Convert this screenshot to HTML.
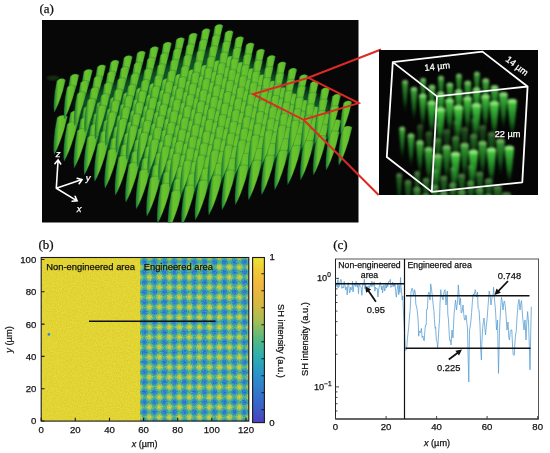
<!DOCTYPE html>
<html><head><meta charset="utf-8"><style>
html,body{margin:0;padding:0;background:#fff;width:550px;height:453px;overflow:hidden}
svg{display:block}
text{font-family:"Liberation Sans",Arial,sans-serif;stroke:#111;stroke-width:0.25px}
.w text{stroke:#fff}
.serif{font-family:"Liberation Serif","Times New Roman",serif;}
</style></head><body>
<svg width="550" height="453" viewBox="0 0 550 453">
<defs>
<clipPath id="clipA"><rect x="42" y="20" width="316.5" height="202.5"/></clipPath>
<clipPath id="clipC"><rect x="379" y="50" width="159" height="145"/></clipPath>
<linearGradient id="cg" x1="0" y1="0" x2="0" y2="1">
<stop offset="0" stop-color="#7cca30"/><stop offset="0.45" stop-color="#6cc22e"/><stop offset="0.8" stop-color="#3fae3a"/><stop offset="1" stop-color="#1a7a3a"/>
</linearGradient>
<linearGradient id="cgh" x1="0" y1="0" x2="1" y2="0.12">
<stop offset="0" stop-color="#0f5a34"/><stop offset="0.2" stop-color="#2f9436"/><stop offset="0.42" stop-color="#6cc42c"/><stop offset="0.8" stop-color="#62be2e"/><stop offset="1" stop-color="#369434"/>
</linearGradient>
<radialGradient id="cgr" cx="0.5" cy="0.22" r="0.8" fx="0.42" fy="0.18">
<stop offset="0" stop-color="#80cc2c"/><stop offset="0.45" stop-color="#6ec22e"/><stop offset="0.75" stop-color="#3a9c34"/><stop offset="1" stop-color="#145a28"/>
</radialGradient>
<linearGradient id="cg2" x1="0" y1="0" x2="0" y2="1">
<stop offset="0" stop-color="#6ada5a" stop-opacity="1"/><stop offset="0.12" stop-color="#44c840" stop-opacity="0.95"/><stop offset="0.55" stop-color="#22a02a" stop-opacity="0.65"/><stop offset="0.9" stop-color="#0d5010" stop-opacity="0"/>
</linearGradient>
<filter id="nz" x="0" y="0" width="100%" height="100%" color-interpolation-filters="sRGB"><feTurbulence type="fractalNoise" baseFrequency="0.8" numOctaves="2" seed="5"/><feColorMatrix type="matrix" values="1 0 0 0 0  1 0 0 0 0  1 0 0 0 0  0 0 0 0 1"/></filter>
<filter id="blr" x="-5%" y="-5%" width="110%" height="110%"><feGaussianBlur stdDeviation="0.6"/></filter>
<filter id="blr3" x="-10%" y="-10%" width="120%" height="120%"><feGaussianBlur stdDeviation="5"/></filter>
<filter id="blr2" x="-5%" y="-5%" width="110%" height="110%"><feGaussianBlur stdDeviation="1.1"/></filter>

<linearGradient id="par" x1="0" y1="0" x2="0" y2="1"><stop offset="0" stop-color="#ece434"/><stop offset="0.082" stop-color="#f0c837"/><stop offset="0.165" stop-color="#f2b63e"/><stop offset="0.289" stop-color="#d4b840"/><stop offset="0.392" stop-color="#a0be55"/><stop offset="0.495" stop-color="#55b982"/><stop offset="0.598" stop-color="#2dafaf"/><stop offset="0.701" stop-color="#2896c8"/><stop offset="0.804" stop-color="#327acd"/><stop offset="0.907" stop-color="#3c5fc8"/><stop offset="1" stop-color="#4b41be"/></linearGradient>
<pattern id="hm" patternUnits="userSpaceOnUse" x="140" y="258" width="10" height="10"><rect x="0" y="0" width="1" height="1" fill="#b3c450"/><rect x="1" y="0" width="1" height="1" fill="#91be63"/><rect x="2" y="0" width="1" height="1" fill="#5eb685"/><rect x="3" y="0" width="1" height="1" fill="#43ac9e"/><rect x="4" y="0" width="1" height="1" fill="#40a7a5"/><rect x="5" y="0" width="1" height="1" fill="#45ae9a"/><rect x="6" y="0" width="1" height="1" fill="#68b77e"/><rect x="7" y="0" width="1" height="1" fill="#9abf5c"/><rect x="8" y="0" width="1" height="1" fill="#b7c54e"/><rect x="9" y="0" width="1" height="1" fill="#bfc74a"/><rect x="0" y="1" width="1" height="1" fill="#8cbd66"/><rect x="1" y="1" width="1" height="1" fill="#61b683"/><rect x="2" y="1" width="1" height="1" fill="#41a9a2"/><rect x="3" y="1" width="1" height="1" fill="#379ab8"/><rect x="4" y="1" width="1" height="1" fill="#3395bf"/><rect x="5" y="1" width="1" height="1" fill="#389cb5"/><rect x="6" y="1" width="1" height="1" fill="#44ac9d"/><rect x="7" y="1" width="1" height="1" fill="#6bb87c"/><rect x="8" y="1" width="1" height="1" fill="#92be61"/><rect x="9" y="1" width="1" height="1" fill="#9fc059"/><rect x="0" y="2" width="1" height="1" fill="#5bb587"/><rect x="1" y="2" width="1" height="1" fill="#42a9a1"/><rect x="2" y="2" width="1" height="1" fill="#3496be"/><rect x="3" y="2" width="1" height="1" fill="#3385c9"/><rect x="4" y="2" width="1" height="1" fill="#3480ca"/><rect x="5" y="2" width="1" height="1" fill="#3288c8"/><rect x="6" y="2" width="1" height="1" fill="#369ab8"/><rect x="7" y="2" width="1" height="1" fill="#44ad9c"/><rect x="8" y="2" width="1" height="1" fill="#61b683"/><rect x="9" y="2" width="1" height="1" fill="#6eb87a"/><rect x="0" y="3" width="1" height="1" fill="#44ad9b"/><rect x="1" y="3" width="1" height="1" fill="#399db4"/><rect x="2" y="3" width="1" height="1" fill="#3289c8"/><rect x="3" y="3" width="1" height="1" fill="#3676cc"/><rect x="4" y="3" width="1" height="1" fill="#3870ce"/><rect x="5" y="3" width="1" height="1" fill="#3679cc"/><rect x="6" y="3" width="1" height="1" fill="#318dc7"/><rect x="7" y="3" width="1" height="1" fill="#3ba1ae"/><rect x="8" y="3" width="1" height="1" fill="#46af98"/><rect x="9" y="3" width="1" height="1" fill="#4eb390"/><rect x="0" y="4" width="1" height="1" fill="#44ac9d"/><rect x="1" y="4" width="1" height="1" fill="#389cb5"/><rect x="2" y="4" width="1" height="1" fill="#3287c8"/><rect x="3" y="4" width="1" height="1" fill="#3775cd"/><rect x="4" y="4" width="1" height="1" fill="#386fce"/><rect x="5" y="4" width="1" height="1" fill="#3678cc"/><rect x="6" y="4" width="1" height="1" fill="#318cc7"/><rect x="7" y="4" width="1" height="1" fill="#3ba0b0"/><rect x="8" y="4" width="1" height="1" fill="#45ae9a"/><rect x="9" y="4" width="1" height="1" fill="#4ab292"/><rect x="0" y="5" width="1" height="1" fill="#53b48d"/><rect x="1" y="5" width="1" height="1" fill="#3fa6a6"/><rect x="2" y="5" width="1" height="1" fill="#3293c3"/><rect x="3" y="5" width="1" height="1" fill="#3482ca"/><rect x="4" y="5" width="1" height="1" fill="#357ccb"/><rect x="5" y="5" width="1" height="1" fill="#3384c9"/><rect x="6" y="5" width="1" height="1" fill="#3497bd"/><rect x="7" y="5" width="1" height="1" fill="#42aaa1"/><rect x="8" y="5" width="1" height="1" fill="#59b588"/><rect x="9" y="5" width="1" height="1" fill="#66b780"/><rect x="0" y="6" width="1" height="1" fill="#82bb6d"/><rect x="1" y="6" width="1" height="1" fill="#57b48a"/><rect x="2" y="6" width="1" height="1" fill="#3ea5a8"/><rect x="3" y="6" width="1" height="1" fill="#3496be"/><rect x="4" y="6" width="1" height="1" fill="#3091c5"/><rect x="5" y="6" width="1" height="1" fill="#3598bb"/><rect x="6" y="6" width="1" height="1" fill="#41a8a2"/><rect x="7" y="6" width="1" height="1" fill="#61b683"/><rect x="8" y="6" width="1" height="1" fill="#88bc68"/><rect x="9" y="6" width="1" height="1" fill="#95be60"/><rect x="0" y="7" width="1" height="1" fill="#adc352"/><rect x="1" y="7" width="1" height="1" fill="#88bc68"/><rect x="2" y="7" width="1" height="1" fill="#56b48b"/><rect x="3" y="7" width="1" height="1" fill="#41a9a2"/><rect x="4" y="7" width="1" height="1" fill="#3ea4a9"/><rect x="5" y="7" width="1" height="1" fill="#43ab9f"/><rect x="6" y="7" width="1" height="1" fill="#5fb684"/><rect x="7" y="7" width="1" height="1" fill="#92be62"/><rect x="8" y="7" width="1" height="1" fill="#b1c451"/><rect x="9" y="7" width="1" height="1" fill="#bac64d"/><rect x="0" y="8" width="1" height="1" fill="#c3c849"/><rect x="1" y="8" width="1" height="1" fill="#a6c156"/><rect x="2" y="8" width="1" height="1" fill="#76b975"/><rect x="3" y="8" width="1" height="1" fill="#4fb38f"/><rect x="4" y="8" width="1" height="1" fill="#46b097"/><rect x="5" y="8" width="1" height="1" fill="#55b48b"/><rect x="6" y="8" width="1" height="1" fill="#80bb6e"/><rect x="7" y="8" width="1" height="1" fill="#acc353"/><rect x="8" y="8" width="1" height="1" fill="#c7c847"/><rect x="9" y="8" width="1" height="1" fill="#d0ca43"/><rect x="0" y="9" width="1" height="1" fill="#c5c848"/><rect x="1" y="9" width="1" height="1" fill="#a8c255"/><rect x="2" y="9" width="1" height="1" fill="#79ba72"/><rect x="3" y="9" width="1" height="1" fill="#52b48d"/><rect x="4" y="9" width="1" height="1" fill="#47b195"/><rect x="5" y="9" width="1" height="1" fill="#58b589"/><rect x="6" y="9" width="1" height="1" fill="#83bb6c"/><rect x="7" y="9" width="1" height="1" fill="#afc352"/><rect x="8" y="9" width="1" height="1" fill="#c9c946"/><rect x="9" y="9" width="1" height="1" fill="#d2cb42"/></pattern>
</defs>
<text class="serif" x="39.5" y="12.6" font-size="13" fill="#111">(a)</text>
<rect x="42" y="20" width="316.5" height="202.5" fill="#070707"/>
<ellipse cx="53" cy="78" rx="6.5" ry="2.5" fill="#2a6a22" opacity="0.4" filter="url(#blr2)"/>
<g clip-path="url(#clipA)"><path d="M78 96L222 44L332 104L332 140L180 196L78 134Z" fill="#17602a" filter="url(#blr3)" opacity="0.85"/></g>
<g clip-path="url(#clipA)"><g filter="url(#blr)" fill="url(#cgh)" stroke="#0f5a34" stroke-width="0.5" stroke-opacity="0.5"><path d="M225.8 58.2Q230.5 54.2 235.6 57.2L232.3 69.9Q227.1 86.8 222.6 94.3Q221.4 86.8 223.7 69.9Z"/><path d="M213.2 62.6Q218 58.6 223 61.6L219.8 74.3Q214.6 91.3 210.1 98.8Q208.9 91.3 211.2 74.3Z"/><path d="M236.1 64.4Q240.8 60.4 245.8 63.4L242.6 76.1Q237.4 93 232.9 100.6Q231.7 93 234 76.1Z"/><path d="M200.6 67.1Q205.3 63.1 210.5 66.1L207.2 78.8Q202 95.8 197.4 103.3Q196.2 95.8 198.5 78.8Z"/><path d="M223.5 68.8Q228.2 64.8 233.3 67.8L230 80.6Q224.8 97.5 220.3 105.1Q219.1 97.5 221.4 80.6Z"/><path d="M246.4 70.6Q251.1 66.6 256.2 69.6L252.9 82.3Q247.7 99.3 243.2 106.9Q242 99.3 244.3 82.3Z"/><path d="M187.9 71.5Q192.7 67.5 197.8 70.5L194.5 83.3Q189.3 100.3 184.8 107.9Q183.5 100.3 185.8 83.3Z"/><path d="M210.8 73.3Q215.6 69.3 220.7 72.3L217.4 85.1Q212.2 102.1 207.7 109.6Q206.4 102.1 208.7 85.1Z"/><path d="M233.8 75.1Q238.5 71.1 243.6 74.1L240.3 86.8Q235.1 103.8 230.6 111.4Q229.4 103.8 231.7 86.8Z"/><path d="M256.8 76.8Q261.5 72.8 266.5 75.8L263.3 88.6Q258.1 105.6 253.5 113.2Q252.3 105.6 254.6 88.6Z"/><path d="M175.1 76Q179.9 72 185.1 75L181.8 87.8Q176.6 104.9 172 112.4Q170.7 104.9 173 87.8Z"/><path d="M198.1 77.8Q202.9 73.8 208 76.8L204.7 89.6Q199.5 106.6 195 114.2Q193.7 106.6 196 89.6Z"/><path d="M221.1 79.6Q225.9 75.6 231 78.6L227.7 91.3Q222.5 108.4 217.9 116Q216.7 108.4 219 91.3Z"/><path d="M244.1 81.4Q248.9 77.4 254 80.4L250.7 93.1Q245.5 110.2 240.9 117.8Q239.7 110.2 242 93.1Z"/><path d="M267.2 83.1Q271.9 79.1 277 82.1L273.7 94.9Q268.5 112 264 119.6Q262.8 112 265.1 94.9Z"/><path d="M162.3 80.5Q167.1 76.5 172.3 79.5L169 92.3Q163.8 109.4 159.2 117Q157.9 109.4 160.2 92.3Z"/><path d="M185.3 82.3Q190.1 78.3 195.3 81.3L192 94.1Q186.8 111.2 182.2 118.8Q180.9 111.2 183.2 94.1Z"/><path d="M208.4 84.1Q213.2 80.1 218.3 83.1L215 95.9Q209.8 113 205.2 120.6Q204 113 206.3 95.9Z"/><path d="M231.5 85.9Q236.2 81.9 241.4 84.9L238.1 97.7Q232.9 114.8 228.3 122.4Q227 114.8 229.4 97.7Z"/><path d="M254.6 87.7Q259.3 83.7 264.4 86.7L261.1 99.5Q255.9 116.6 251.4 124.2Q250.1 116.6 252.5 99.5Z"/><path d="M149.4 85.1Q154.2 81.1 159.5 84.1L156.1 96.9Q150.9 114 146.3 121.6Q145 114 147.3 96.9Z"/><path d="M277.7 89.5Q282.4 85.5 287.5 88.5L284.2 101.3Q279 118.4 274.5 126Q273.3 118.4 275.6 101.3Z"/><path d="M172.5 86.9Q177.3 82.9 182.5 85.9L179.2 98.7Q174 115.8 169.3 123.4Q168.1 115.8 170.4 98.7Z"/><path d="M195.6 88.7Q200.4 84.7 205.6 87.7L202.3 100.5Q197 117.6 192.4 125.2Q191.2 117.6 193.5 100.5Z"/><path d="M218.7 90.4Q223.5 86.4 228.7 89.4L225.4 102.3Q220.1 119.4 215.6 127Q214.3 119.4 216.6 102.3Z"/><path d="M241.9 92.2Q246.7 88.2 251.8 91.2L248.5 104.1Q243.3 121.2 238.7 128.8Q237.5 121.2 239.8 104.1Z"/><path d="M136.4 89.6Q141.3 85.6 146.5 88.6L143.2 101.5Q138 118.6 133.3 126.3Q132 118.6 134.3 101.5Z"/><path d="M265.1 94Q269.8 90 275 93L271.7 105.9Q266.4 123 261.9 130.6Q260.6 123 263 105.9Z"/><path d="M159.6 91.4Q164.4 87.4 169.6 90.4L166.3 103.3Q161.1 120.4 156.4 128.1Q155.2 120.4 157.5 103.3Z"/><path d="M288.3 95.8Q293 91.8 298.1 94.8L294.8 107.7Q289.6 124.8 285.1 132.4Q283.8 124.8 286.2 107.7Z"/><path d="M182.7 93.2Q187.5 89.2 192.8 92.2L189.5 105.1Q184.2 122.2 179.6 129.9Q178.3 122.2 180.6 105.1Z"/><path d="M205.9 95Q210.7 91 215.9 94L212.6 106.9Q207.4 124 202.8 131.7Q201.5 124 203.8 106.9Z"/><path d="M229.1 96.8Q233.9 92.8 239.1 95.8L235.8 108.7Q230.6 125.8 225.9 133.5Q224.7 125.8 227 108.7Z"/><path d="M123.4 94.2Q128.2 90.2 133.5 93.2L130.2 106.1Q125 123.3 120.3 130.9Q119 123.3 121.3 106.1Z"/><path d="M252.4 98.6Q257.1 94.6 262.3 97.6L259 110.5Q253.8 127.6 249.2 135.3Q247.9 127.6 250.3 110.5Z"/><path d="M146.6 96Q151.4 92 156.7 95L153.4 107.9Q148.1 125.1 143.5 132.7Q142.2 125.1 144.5 107.9Z"/><path d="M275.6 100.4Q280.4 96.4 285.5 99.4L282.2 112.3Q277 129.5 272.4 137.1Q271.2 129.5 273.5 112.3Z"/><path d="M169.8 97.8Q174.6 93.8 179.9 96.8L176.6 109.7Q171.3 126.9 166.7 134.5Q165.4 126.9 167.7 109.7Z"/><path d="M298.9 102.2Q303.7 98.2 308.8 101.2L305.5 114.1Q300.3 131.3 295.7 138.9Q294.5 131.3 296.8 114.1Z"/><path d="M193 99.6Q197.9 95.6 203.1 98.6L199.8 111.5Q194.5 128.7 189.9 136.3Q188.6 128.7 190.9 111.5Z"/><path d="M216.3 101.4Q221.1 97.4 226.3 100.4L223 113.3Q217.8 130.5 213.1 138.2Q211.9 130.5 214.2 113.3Z"/><path d="M110.3 98.8Q115.2 94.8 120.5 97.8L117.2 110.7Q111.9 127.9 107.2 135.6Q105.9 127.9 108.2 110.7Z"/><path d="M239.6 103.2Q244.4 99.2 249.6 102.2L246.3 115.1Q241 132.3 236.4 140Q235.2 132.3 237.5 115.1Z"/><path d="M133.5 100.6Q138.4 96.6 143.7 99.6L140.4 112.5Q135.1 129.8 130.4 137.4Q129.1 129.8 131.4 112.5Z"/><path d="M262.9 105Q267.7 101 272.9 104L269.6 116.9Q264.3 134.1 259.7 141.8Q258.5 134.1 260.8 116.9Z"/><path d="M156.8 102.4Q161.6 98.4 166.9 101.4L163.6 114.3Q158.3 131.6 153.7 139.2Q152.4 131.6 154.7 114.3Z"/><path d="M286.3 106.9Q291 102.9 296.2 105.9L292.9 118.7Q287.6 136 283 143.6Q281.8 136 284.2 118.7Z"/><path d="M180.1 104.3Q184.9 100.3 190.2 103.3L186.9 116.2Q181.6 133.4 176.9 141Q175.7 133.4 178 116.2Z"/><path d="M309.7 108.7Q314.4 104.7 319.5 107.7L316.2 120.6Q311 137.8 306.4 145.4Q305.2 137.8 307.5 120.6Z"/><path d="M203.4 106.1Q208.2 102.1 213.5 105.1L210.2 118Q204.9 135.2 200.3 142.9Q199 135.2 201.3 118Z"/><path d="M97.1 103.5Q102 99.5 107.4 102.5L104 115.4Q98.7 132.6 94 140.3Q92.7 132.6 95 115.4Z"/><path d="M226.8 107.9Q231.6 103.9 236.8 106.9L233.5 119.8Q228.2 137 223.6 144.7Q222.3 137 224.6 119.8Z"/><path d="M120.4 105.3Q125.3 101.3 130.6 104.3L127.3 117.2Q122 134.5 117.3 142.1Q116 134.5 118.3 117.2Z"/><path d="M250.2 109.7Q254.9 105.7 260.2 108.7L256.8 121.6Q251.6 138.9 246.9 146.5Q245.7 138.9 248 121.6Z"/><path d="M143.7 107.1Q148.6 103.1 153.9 106.1L150.6 119Q145.3 136.3 140.6 144Q139.3 136.3 141.6 119Z"/><path d="M273.6 111.5Q278.3 107.5 283.5 110.5L280.2 123.4Q274.9 140.7 270.3 148.4Q269.1 140.7 271.4 123.4Z"/><path d="M167.1 108.9Q171.9 104.9 177.2 107.9L173.9 120.8Q168.6 138.1 163.9 145.8Q162.6 138.1 165 120.8Z"/><path d="M297 113.3Q301.8 109.3 306.9 112.3L303.6 125.3Q298.3 142.5 293.7 150.2Q292.5 142.5 294.9 125.3Z"/><path d="M190.5 110.7Q195.3 106.7 200.6 109.7L197.2 122.7Q192 139.9 187.3 147.6Q186 139.9 188.3 122.7Z"/><path d="M320.4 115.2Q325.2 111.2 330.3 114.2L327 127.1Q321.8 144.3 317.2 152Q316 144.3 318.3 127.1Z"/><path d="M83.8 108.1Q88.8 104.1 94.2 107.1L90.8 120.1Q85.5 137.4 80.8 145Q79.4 137.4 81.7 120.1Z"/><path d="M213.9 112.6Q218.7 108.6 224 111.6L220.6 124.5Q215.3 141.8 210.7 149.4Q209.4 141.8 211.7 124.5Z"/><path d="M107.2 109.9Q112.1 105.9 117.5 108.9L114.1 121.9Q108.8 139.2 104.1 146.9Q102.8 139.2 105.1 121.9Z"/><path d="M237.3 114.4Q242.1 110.4 247.4 113.4L244 126.3Q238.7 143.6 234.1 151.3Q232.8 143.6 235.2 126.3Z"/><path d="M130.6 111.8Q135.5 107.8 140.8 110.8L137.5 123.7Q132.2 141 127.5 148.7Q126.2 141 128.5 123.7Z"/><path d="M260.8 116.2Q265.6 112.2 270.8 115.2L267.4 128.1Q262.2 145.4 257.5 153.1Q256.3 145.4 258.6 128.1Z"/><path d="M154 113.6Q158.9 109.6 164.2 112.6L160.9 125.5Q155.6 142.8 150.9 150.5Q149.6 142.8 151.9 125.5Z"/><path d="M284.3 118Q289 114 294.2 117L290.9 130Q285.6 147.3 281 154.9Q279.8 147.3 282.1 130Z"/><path d="M177.4 115.4Q182.3 111.4 187.6 114.4L184.3 127.4Q179 144.7 174.3 152.4Q173 144.7 175.3 127.4Z"/><path d="M307.8 119.9Q312.5 115.9 317.7 118.9L314.4 131.8Q309.1 149.1 304.5 156.8Q303.3 149.1 305.6 131.8Z"/><path d="M70.5 112.8Q75.5 108.8 80.9 111.8L77.5 124.8Q72.2 142.1 67.5 149.8Q66.1 142.1 68.4 124.8Z"/><path d="M200.9 117.3Q205.7 113.3 211 116.3L207.7 129.2Q202.4 146.5 197.7 154.2Q196.4 146.5 198.8 129.2Z"/><path d="M331.3 121.7Q336.1 117.7 341.2 120.7L337.9 133.6Q332.6 150.9 328 158.6Q326.8 150.9 329.2 133.6Z"/><path d="M93.9 114.6Q98.9 110.6 104.3 113.6L100.9 126.6Q95.6 143.9 90.9 151.6Q89.5 143.9 91.8 126.6Z"/><path d="M224.4 119.1Q229.2 115.1 234.5 118.1L231.1 131Q225.9 148.4 221.2 156.1Q219.9 148.4 222.2 131Z"/><path d="M117.4 116.5Q122.3 112.5 127.7 115.5L124.3 128.4Q119 145.8 114.3 153.5Q112.9 145.8 115.2 128.4Z"/><path d="M247.9 120.9Q252.7 116.9 258 119.9L254.6 132.9Q249.3 150.2 244.7 157.9Q243.4 150.2 245.8 132.9Z"/><path d="M140.8 118.3Q145.7 114.3 151.1 117.3L147.7 130.3Q142.4 147.6 137.7 155.3Q136.4 147.6 138.7 130.3Z"/><path d="M271.4 122.8Q276.3 118.8 281.5 121.8L278.1 134.7Q272.9 152 268.2 159.7Q267 152 269.3 134.7Z"/><path d="M164.3 120.1Q169.2 116.1 174.6 119.1L171.2 132.1Q165.9 149.5 161.2 157.2Q159.9 149.5 162.2 132.1Z"/><path d="M295 124.6Q299.8 120.6 305 123.6L301.7 136.6Q296.4 153.9 291.8 161.6Q290.5 153.9 292.9 136.6Z"/><path d="M57.1 117.5Q62.1 113.5 67.5 116.5L64.2 129.5Q58.8 146.9 54.1 154.6Q52.7 146.9 55 129.5Z"/><path d="M187.8 122Q192.7 118 198 121L194.7 134Q189.4 151.3 184.7 159Q183.4 151.3 185.7 134Z"/><path d="M318.6 126.4Q323.4 122.4 328.6 125.4L325.2 138.4Q320 155.7 315.3 163.4Q314.1 155.7 316.5 138.4Z"/><path d="M80.6 119.4Q85.5 115.4 91 118.4L87.6 131.4Q82.3 148.7 77.5 156.4Q76.2 148.7 78.5 131.4Z"/><path d="M211.4 123.8Q216.3 119.8 221.6 122.8L218.2 135.8Q212.9 153.1 208.2 160.9Q206.9 153.1 209.3 135.8Z"/><path d="M342.2 128.3Q347 124.3 352.2 127.3L348.8 140.3Q343.6 157.6 338.9 165.3Q337.7 157.6 340.1 140.3Z"/><path d="M104.1 121.2Q109 117.2 114.4 120.2L111.1 133.2Q105.7 150.6 101 158.3Q99.7 150.6 101.9 133.2Z"/><path d="M235 125.7Q239.8 121.7 245.1 124.7L241.7 137.6Q236.4 155 231.8 162.7Q230.5 155 232.8 137.6Z"/><path d="M127.6 123Q132.5 119 137.9 122L134.6 135Q129.2 152.4 124.5 160.1Q123.2 152.4 125.5 135Z"/><path d="M258.6 127.5Q263.4 123.5 268.7 126.5L265.3 139.5Q260 156.8 255.3 164.6Q254.1 156.8 256.4 139.5Z"/><path d="M151.2 124.9Q156.1 120.9 161.4 123.9L158.1 136.9Q152.7 154.3 148 162Q146.7 154.3 149 136.9Z"/><path d="M282.2 129.3Q287 125.3 292.2 128.3L288.9 141.3Q283.6 158.7 279 166.4Q277.7 158.7 280 141.3Z"/><path d="M174.7 126.7Q179.6 122.7 185 125.7L181.6 138.7Q176.3 156.1 171.6 163.8Q170.3 156.1 172.6 138.7Z"/><path d="M305.8 131.2Q310.6 127.2 315.9 130.2L312.5 143.2Q307.2 160.6 302.6 168.3Q301.3 160.6 303.7 143.2Z"/><path d="M67.2 124.1Q72.1 120.1 77.6 123.1L74.2 136.1Q68.9 153.5 64.1 161.2Q62.7 153.5 65 136.1Z"/><path d="M198.3 128.6Q203.2 124.6 208.6 127.6L205.2 140.6Q199.9 158 195.2 165.7Q193.9 158 196.2 140.6Z"/><path d="M329.5 133Q334.3 129 339.5 132L336.2 145Q330.9 162.4 326.2 170.1Q325 162.4 327.4 145Z"/><path d="M90.7 125.9Q95.7 121.9 101.1 124.9L97.8 138Q92.4 155.4 87.6 163.1Q86.3 155.4 88.6 138Z"/><path d="M222 130.4Q226.8 126.4 232.1 129.4L228.8 142.4Q223.5 159.8 218.8 167.5Q217.5 159.8 219.8 142.4Z"/><path d="M114.3 127.8Q119.2 123.8 124.7 126.8L121.3 139.8Q116 157.2 111.2 165Q109.9 157.2 112.2 139.8Z"/><path d="M245.6 132.3Q250.5 128.3 255.8 131.3L252.4 144.3Q247.1 161.7 242.4 169.4Q241.1 161.7 243.5 144.3Z"/><path d="M137.9 129.6Q142.8 125.6 148.3 128.6L144.9 141.7Q139.5 159.1 134.8 166.8Q133.5 159.1 135.8 141.7Z"/><path d="M269.3 134.1Q274.1 130.1 279.4 133.1L276.1 146.1Q270.7 163.5 266.1 171.3Q264.8 163.5 267.2 146.1Z"/><path d="M161.5 131.5Q166.5 127.5 171.9 130.5L168.5 143.5Q163.1 160.9 158.4 168.7Q157.1 160.9 159.4 143.5Z"/><path d="M293 136Q297.8 132 303.1 135L299.7 148Q294.4 165.4 289.8 173.1Q288.5 165.4 290.9 148Z"/><path d="M185.2 133.3Q190.1 129.3 195.5 132.3L192.1 145.4Q186.8 162.8 182 170.5Q180.7 162.8 183.1 145.4Z"/><path d="M316.8 137.8Q321.6 133.8 326.8 136.8L323.4 149.9Q318.1 167.3 313.5 175Q312.2 167.3 314.6 149.9Z"/><path d="M77.3 130.7Q82.3 126.7 87.8 129.7L84.4 142.8Q79 160.2 74.2 167.9Q72.9 160.2 75.2 142.8Z"/><path d="M208.9 135.2Q213.8 131.2 219.1 134.2L215.8 147.2Q210.4 164.7 205.7 172.4Q204.4 164.7 206.7 147.2Z"/><path d="M100.9 132.6Q105.9 128.6 111.4 131.6L108 144.6Q102.6 162.1 97.8 169.8Q96.5 162.1 98.8 144.6Z"/><path d="M232.6 137.1Q237.5 133.1 242.8 136.1L239.4 149.1Q234.1 166.5 229.4 174.3Q228.1 166.5 230.5 149.1Z"/><path d="M124.6 134.4Q129.5 130.4 135 133.4L131.6 146.5Q126.2 163.9 121.5 171.7Q120.1 163.9 122.4 146.5Z"/><path d="M256.3 138.9Q261.2 134.9 266.5 137.9L263.1 151Q257.8 168.4 253.1 176.1Q251.8 168.4 254.2 151Z"/><path d="M148.3 136.3Q153.2 132.3 158.6 135.3L155.3 148.4Q149.9 165.8 145.2 173.6Q143.8 165.8 146.1 148.4Z"/><path d="M280.1 140.8Q285 136.8 290.2 139.8L286.9 152.8Q281.6 170.3 276.9 178Q275.6 170.3 278 152.8Z"/><path d="M172 138.2Q176.9 134.2 182.3 137.2L178.9 150.2Q173.6 167.7 168.9 175.4Q167.5 167.7 169.9 150.2Z"/><path d="M303.9 142.6Q308.7 138.6 314 141.6L310.6 154.7Q305.3 172.1 300.6 179.9Q299.4 172.1 301.8 154.7Z"/><path d="M195.7 140Q200.7 136 206 139L202.7 152.1Q197.3 169.5 192.6 177.3Q191.3 169.5 193.6 152.1Z"/><path d="M87.5 137.4Q92.5 133.4 98 136.4L94.6 149.5Q89.2 166.9 84.4 174.7Q83 166.9 85.3 149.5Z"/><path d="M219.5 141.9Q224.4 137.9 229.8 140.9L226.4 154Q221 171.4 216.3 179.2Q215 171.4 217.4 154Z"/><path d="M111.2 139.2Q116.2 135.2 121.7 138.2L118.3 151.3Q112.9 168.8 108.1 176.6Q106.7 168.8 109.1 151.3Z"/><path d="M243.3 143.8Q248.2 139.8 253.5 142.8L250.2 155.8Q244.8 173.3 240.1 181.1Q238.8 173.3 241.2 155.8Z"/><path d="M135 141.1Q139.9 137.1 145.4 140.1L142 153.2Q136.6 170.7 131.8 178.5Q130.5 170.7 132.8 153.2Z"/><path d="M267.1 145.6Q272 141.6 277.3 144.6L273.9 157.7Q268.6 175.2 263.9 182.9Q262.6 175.2 265 157.7Z"/><path d="M158.7 143Q163.7 139 169.1 142L165.7 155.1Q160.3 172.6 155.6 180.3Q154.3 172.6 156.6 155.1Z"/><path d="M291 147.5Q295.8 143.5 301.1 146.5L297.8 159.6Q292.4 177.1 287.7 184.8Q286.5 177.1 288.8 159.6Z"/><path d="M182.5 144.9Q187.5 140.9 192.9 143.9L189.5 157Q184.1 174.4 179.4 182.2Q178 174.4 180.4 157Z"/><path d="M206.4 146.7Q211.3 142.7 216.7 145.7L213.3 158.8Q207.9 176.3 203.2 184.1Q201.9 176.3 204.2 158.8Z"/><path d="M97.7 144.1Q102.7 140.1 108.3 143.1L104.9 156.2Q99.5 173.7 94.7 181.5Q93.3 173.7 95.6 156.2Z"/><path d="M230.2 148.6Q235.1 144.6 240.5 147.6L237.1 160.7Q231.7 178.2 227 186Q225.7 178.2 228.1 160.7Z"/><path d="M121.5 146Q126.5 142 132 145L128.6 158.1Q123.2 175.6 118.4 183.4Q117.1 175.6 119.4 158.1Z"/><path d="M254.1 150.5Q259 146.5 264.3 149.5L260.9 162.6Q255.6 180.1 250.9 187.9Q249.6 180.1 251.9 162.6Z"/><path d="M145.4 147.8Q150.3 143.8 155.8 146.8L152.4 160Q147 177.5 142.3 185.3Q140.9 177.5 143.2 160Z"/><path d="M278 152.4Q282.9 148.4 288.2 151.4L284.8 164.5Q279.5 182 274.8 189.8Q273.5 182 275.8 164.5Z"/><path d="M169.2 149.7Q174.2 145.7 179.6 148.7L176.2 161.9Q170.9 179.4 166.1 187.2Q164.8 179.4 167.1 161.9Z"/><path d="M193.1 151.6Q198.1 147.6 203.5 150.6L200.1 163.7Q194.7 181.3 190 189.1Q188.6 181.3 191 163.7Z"/><path d="M217 153.5Q222 149.5 227.4 152.5L224 165.6Q218.6 183.2 213.9 190.9Q212.5 183.2 214.9 165.6Z"/><path d="M108.1 150.8Q113.1 146.8 118.6 149.8L115.2 163Q109.8 180.5 105 188.3Q103.6 180.5 105.9 163Z"/><path d="M241 155.4Q245.9 151.4 251.3 154.4L247.9 167.5Q242.5 185.1 237.8 192.8Q236.5 185.1 238.8 167.5Z"/><path d="M132 152.7Q136.9 148.7 142.4 151.7L139 164.9Q133.6 182.4 128.8 190.2Q127.5 182.4 129.8 164.9Z"/><path d="M265 157.3Q269.8 153.3 275.2 156.3L271.8 169.4Q266.4 186.9 261.7 194.7Q260.4 186.9 262.8 169.4Z"/><path d="M155.9 154.6Q160.8 150.6 166.3 153.6L162.9 166.8Q157.5 184.3 152.7 192.1Q151.4 184.3 153.7 166.8Z"/><path d="M179.8 156.5Q184.8 152.5 190.2 155.5L186.8 168.7Q181.4 186.2 176.7 194Q175.3 186.2 177.7 168.7Z"/><path d="M203.8 158.4Q208.7 154.4 214.2 157.4L210.8 170.6Q205.4 188.1 200.6 195.9Q199.3 188.1 201.6 170.6Z"/><path d="M227.8 160.3Q232.7 156.3 238.1 159.3L234.7 172.5Q229.4 190 224.6 197.8Q223.3 190 225.6 172.5Z"/><path d="M118.5 157.6Q123.5 153.6 129 156.6L125.6 169.8Q120.2 187.4 115.4 195.2Q114 187.4 116.3 169.8Z"/><path d="M251.8 162.2Q256.7 158.2 262.1 161.2L258.7 174.4Q253.3 191.9 248.6 199.7Q247.3 191.9 249.6 174.4Z"/><path d="M142.4 159.5Q147.4 155.5 152.9 158.5L149.5 171.7Q144.1 189.3 139.3 197.1Q137.9 189.3 140.3 171.7Z"/><path d="M166.4 161.4Q171.4 157.4 176.9 160.4L173.5 173.6Q168.1 191.2 163.3 199Q161.9 191.2 164.3 173.6Z"/><path d="M190.5 163.3Q195.4 159.3 200.9 162.3L197.5 175.5Q192.1 193.1 187.3 200.9Q186 193.1 188.3 175.5Z"/><path d="M214.5 165.2Q219.5 161.2 224.9 164.2L221.5 177.4Q216.1 195 211.3 202.9Q210 195 212.4 177.4Z"/><path d="M238.6 167.1Q243.6 163.1 249 166.1L245.6 179.3Q240.2 196.9 235.4 204.8Q234.1 196.9 236.4 179.3Z"/><path d="M128.9 164.5Q133.9 160.5 139.5 163.5L136.1 176.7Q130.6 194.3 125.8 202.2Q124.4 194.3 126.8 176.7Z"/><path d="M153 166.4Q158 162.4 163.5 165.4L160.1 178.6Q154.7 196.2 149.9 204.1Q148.5 196.2 150.8 178.6Z"/><path d="M177.1 168.3Q182.1 164.3 187.6 167.3L184.2 180.5Q178.7 198.2 173.9 206Q172.6 198.2 174.9 180.5Z"/><path d="M201.2 170.2Q206.2 166.2 211.7 169.2L208.2 182.4Q202.8 200.1 198 207.9Q196.7 200.1 199 182.4Z"/><path d="M225.3 172.1Q230.3 168.1 235.8 171.1L232.3 184.4Q226.9 202 222.1 209.8Q220.8 202 223.2 184.4Z"/><path d="M139.5 171.4Q144.5 167.4 150 170.4L146.6 183.6Q141.2 201.3 136.3 209.1Q135 201.3 137.3 183.6Z"/><path d="M163.6 173.3Q168.6 169.3 174.2 172.3L170.7 185.5Q165.3 203.2 160.5 211.1Q159.1 203.2 161.4 185.5Z"/><path d="M187.8 175.2Q192.8 171.2 198.3 174.2L194.9 187.5Q189.4 205.1 184.6 213Q183.3 205.1 185.6 187.5Z"/><path d="M212 177.1Q217 173.1 222.5 176.1L219 189.4Q213.6 207.1 208.8 214.9Q207.5 207.1 209.8 189.4Z"/><path d="M150.1 178.3Q155.1 174.3 160.7 177.3L157.2 190.6Q151.8 208.3 146.9 216.2Q145.5 208.3 147.9 190.6Z"/><path d="M174.3 180.2Q179.3 176.2 184.9 179.2L181.4 192.5Q176 210.2 171.2 218.1Q169.8 210.2 172.1 192.5Z"/><path d="M198.6 182.2Q203.6 178.2 209.1 181.2L205.7 194.5Q200.2 212.2 195.4 220Q194 212.2 196.4 194.5Z"/><path d="M160.7 185.3Q165.8 181.3 171.4 184.3L167.9 197.6Q162.5 215.3 157.6 223.2Q156.2 215.3 158.6 197.6Z"/><path d="M185.1 187.2Q190.1 183.2 195.7 186.2L192.2 199.5Q186.8 217.3 181.9 225.2Q180.5 217.3 182.9 199.5Z"/><path d="M171.5 192.3Q176.5 188.3 182.1 191.3L178.7 204.7Q173.2 222.4 168.3 230.3Q167 222.4 169.3 204.7Z"/><path d="M214.8 26.5Q218.9 22.5 223.1 25.5L220.3 36.2Q215.9 50.7 212.1 57.1Q211.1 50.7 213 36.2Z"/><path d="M202 30.9Q206.1 26.9 210.3 29.9L207.6 40.7Q203.2 55.1 199.3 61.5Q198.3 55.1 200.3 40.7Z"/><path d="M225.1 32.7Q229.2 28.7 233.4 31.7L230.7 42.4Q226.3 56.9 222.4 63.3Q221.4 56.9 223.4 42.4Z"/><path d="M189.1 35.3Q193.3 31.3 197.5 34.3L194.8 45.1Q190.3 59.6 186.5 66Q185.4 59.6 187.4 45.1Z"/><path d="M212.3 37.1Q216.5 33.1 220.7 36.1L217.9 46.9Q213.5 61.3 209.6 67.8Q208.6 61.3 210.6 46.9Z"/><path d="M235.5 38.8Q239.7 34.8 243.9 37.8L241.1 48.6Q236.7 63.1 232.8 69.5Q231.8 63.1 233.8 48.6Z"/><path d="M176.2 39.8Q180.4 35.8 184.7 38.8L181.9 49.6Q177.5 64.1 173.6 70.5Q172.5 64.1 174.5 49.6Z"/><path d="M199.5 41.5Q203.6 37.5 207.9 40.5L205.1 51.3Q200.7 65.8 196.8 72.3Q195.8 65.8 197.7 51.3Z"/><path d="M222.7 43.3Q226.9 39.3 231.1 42.3L228.3 53.1Q223.9 67.6 220 74.1Q219 67.6 221 53.1Z"/><path d="M246 45.1Q250.1 41.1 254.4 44.1L251.6 54.9Q247.2 69.4 243.3 75.8Q242.3 69.4 244.3 54.9Z"/><path d="M163.2 44.3Q167.4 40.3 171.7 43.3L168.9 54.1Q164.5 68.6 160.6 75Q159.5 68.6 161.5 54.1Z"/><path d="M186.5 46Q190.7 42 195 45L192.2 55.8Q187.8 70.4 183.9 76.8Q182.8 70.4 184.8 55.8Z"/><path d="M209.9 47.8Q214 43.8 218.3 46.8L215.5 57.6Q211 72.1 207.2 78.6Q206.1 72.1 208.1 57.6Z"/><path d="M233.2 49.6Q237.3 45.6 241.6 48.6L238.8 59.4Q234.4 73.9 230.5 80.4Q229.5 73.9 231.4 59.4Z"/><path d="M256.6 51.3Q260.7 47.3 264.9 50.3L262.1 61.2Q257.7 75.7 253.8 82.2Q252.8 75.7 254.8 61.2Z"/><path d="M150.2 48.7Q154.4 44.7 158.7 47.7L155.9 58.6Q151.5 73.1 147.5 79.6Q146.5 73.1 148.4 58.6Z"/><path d="M173.5 50.5Q177.7 46.5 182 49.5L179.2 60.3Q174.8 74.9 170.9 81.4Q169.8 74.9 171.8 60.3Z"/><path d="M196.9 52.3Q201.1 48.3 205.4 51.3L202.6 62.1Q198.1 76.7 194.2 83.2Q193.2 76.7 195.2 62.1Z"/><path d="M220.3 54.1Q224.5 50.1 228.7 53.1L225.9 63.9Q221.5 78.5 217.6 85Q216.6 78.5 218.6 63.9Z"/><path d="M243.7 55.9Q247.9 51.9 252.1 54.9L249.3 65.7Q244.9 80.3 241 86.8Q240 80.3 242 65.7Z"/><path d="M137.1 53.3Q141.3 49.3 145.6 52.3L142.8 63.1Q138.4 77.7 134.4 84.2Q133.4 77.7 135.3 63.1Z"/><path d="M267.2 57.6Q271.3 53.6 275.5 56.6L272.8 67.5Q268.3 82.1 264.5 88.5Q263.4 82.1 265.4 67.5Z"/><path d="M160.5 55Q164.7 51 169 54L166.2 64.9Q161.7 79.5 157.8 86Q156.7 79.5 158.7 64.9Z"/><path d="M183.9 56.8Q188.1 52.8 192.4 55.8L189.6 66.7Q185.1 81.3 181.2 87.8Q180.2 81.3 182.1 66.7Z"/><path d="M207.3 58.6Q211.5 54.6 215.8 57.6L213 68.5Q208.6 83.1 204.7 89.6Q203.6 83.1 205.6 68.5Z"/><path d="M230.8 60.4Q235 56.4 239.3 59.4L236.5 70.3Q232 84.9 228.1 91.4Q227.1 84.9 229.1 70.3Z"/><path d="M123.9 57.8Q128.1 53.8 132.5 56.8L129.7 67.7Q125.2 82.3 121.2 88.8Q120.2 82.3 122.1 67.7Z"/><path d="M254.3 62.2Q258.5 58.2 262.7 61.2L259.9 72.1Q255.5 86.7 251.6 93.2Q250.6 86.7 252.6 72.1Z"/><path d="M147.3 59.6Q151.5 55.6 155.9 58.6L153.1 69.5Q148.6 84.1 144.7 90.6Q143.6 84.1 145.6 69.5Z"/><path d="M277.9 64Q282 60 286.2 63L283.4 73.9Q279 88.5 275.1 95Q274.1 88.5 276.1 73.9Z"/><path d="M170.8 61.4Q175 57.4 179.4 60.4L176.5 71.3Q172.1 85.9 168.1 92.4Q167.1 85.9 169.1 71.3Z"/><path d="M194.3 63.2Q198.5 59.2 202.8 62.2L200 73.1Q195.6 87.7 191.6 94.2Q190.6 87.7 192.6 73.1Z"/><path d="M217.9 65Q222 61 226.3 64L223.5 74.9Q219.1 89.5 215.2 96Q214.1 89.5 216.1 74.9Z"/><path d="M110.6 62.4Q114.8 58.4 119.2 61.4L116.4 72.3Q111.9 86.9 108 93.4Q106.9 86.9 108.8 72.3Z"/><path d="M241.4 66.8Q245.6 62.8 249.9 65.8L247.1 76.7Q242.6 91.3 238.7 97.8Q237.7 91.3 239.7 76.7Z"/><path d="M134.1 64.2Q138.3 60.2 142.7 63.2L139.9 74.1Q135.4 88.7 131.5 95.2Q130.4 88.7 132.4 74.1Z"/><path d="M265 68.6Q269.2 64.6 273.4 67.6L270.6 78.5Q266.2 93.1 262.3 99.6Q261.3 93.1 263.2 78.5Z"/><path d="M157.7 66Q161.9 62 166.2 65L163.4 75.9Q158.9 90.5 155 97Q153.9 90.5 155.9 75.9Z"/><path d="M288.6 70.4Q292.8 66.4 297 69.4L294.2 80.3Q289.8 94.9 285.9 101.4Q284.9 94.9 286.9 80.3Z"/><path d="M181.2 67.8Q185.4 63.8 189.8 66.8L187 77.7Q182.5 92.3 178.6 98.8Q177.5 92.3 179.5 77.7Z"/><path d="M204.8 69.6Q209 65.6 213.3 68.6L210.5 79.5Q206.1 94.1 202.1 100.7Q201.1 94.1 203 79.5Z"/><path d="M97.3 67Q101.5 63 105.9 66L103.1 76.9Q98.6 91.5 94.6 98.1Q93.5 91.5 95.5 76.9Z"/><path d="M228.4 71.4Q232.6 67.4 236.9 70.4L234.1 81.3Q229.6 96 225.7 102.5Q224.7 96 226.7 81.3Z"/><path d="M120.8 68.8Q125.1 64.8 129.5 67.8L126.7 78.7Q122.2 93.4 118.2 99.9Q117.1 93.4 119.1 78.7Z"/><path d="M252.1 73.2Q256.3 69.2 260.5 72.2L257.7 83.1Q253.3 97.8 249.4 104.3Q248.3 97.8 250.3 83.1Z"/><path d="M144.4 70.6Q148.7 66.6 153.1 69.6L150.2 80.5Q145.7 95.2 141.8 101.7Q140.7 95.2 142.7 80.5Z"/><path d="M275.8 75Q279.9 71 284.2 74L281.4 84.9Q276.9 99.6 273 106.1Q272 99.6 274 84.9Z"/><path d="M168 72.4Q172.3 68.4 176.6 71.4L173.8 82.3Q169.3 97 165.4 103.5Q164.3 97 166.3 82.3Z"/><path d="M299.5 76.8Q303.6 72.8 307.9 75.8L305 86.7Q300.6 101.4 296.7 107.9Q295.7 101.4 297.7 86.7Z"/><path d="M191.7 74.2Q195.9 70.2 200.3 73.2L197.4 84.1Q193 98.8 189 105.3Q188 98.8 189.9 84.1Z"/><path d="M83.8 71.6Q88.1 67.6 92.6 70.6L89.7 81.5Q85.2 96.2 81.2 102.8Q80.1 96.2 82.1 81.5Z"/><path d="M215.4 76Q219.6 72 223.9 75L221.1 85.9Q216.6 100.6 212.7 107.2Q211.6 100.6 213.6 85.9Z"/><path d="M107.5 73.4Q111.7 69.4 116.2 72.4L113.3 83.3Q108.8 98 104.9 104.6Q103.7 98 105.7 83.3Z"/><path d="M239.1 77.8Q243.3 73.8 247.6 76.8L244.8 87.8Q240.3 102.5 236.4 109Q235.3 102.5 237.3 87.8Z"/><path d="M131.1 75.2Q135.4 71.2 139.8 74.2L137 85.1Q132.5 99.9 128.5 106.4Q127.4 99.9 129.4 85.1Z"/><path d="M262.8 79.6Q267 75.6 271.3 78.6L268.5 89.6Q264 104.3 260.1 110.8Q259 104.3 261 89.6Z"/><path d="M154.8 77Q159.1 73 163.5 76L160.6 87Q156.1 101.7 152.2 108.2Q151.1 101.7 153 87Z"/><path d="M286.6 81.5Q290.7 77.5 295 80.5L292.2 91.4Q287.7 106.1 283.8 112.6Q282.8 106.1 284.8 91.4Z"/><path d="M178.5 78.8Q182.7 74.8 187.1 77.8L184.3 88.8Q179.8 103.5 175.8 110.1Q174.8 103.5 176.7 88.8Z"/><path d="M310.4 83.3Q314.5 79.3 318.8 82.3L316 93.2Q311.5 107.9 307.6 114.5Q306.6 107.9 308.6 93.2Z"/><path d="M70.3 76.2Q74.7 72.2 79.1 75.2L76.3 86.2Q71.8 100.9 67.8 107.5Q66.6 100.9 68.6 86.2Z"/><path d="M202.2 80.7Q206.5 76.7 210.8 79.7L208 90.6Q203.5 105.3 199.6 111.9Q198.5 105.3 200.5 90.6Z"/><path d="M94 78Q98.3 74 102.8 77L100 88Q95.4 102.7 91.4 109.3Q90.3 102.7 92.3 88Z"/><path d="M226 82.5Q230.2 78.5 234.6 81.5L231.7 92.4Q227.2 107.2 223.3 113.7Q222.2 107.2 224.2 92.4Z"/><path d="M117.7 79.9Q122 75.9 126.5 78.9L123.6 89.8Q119.1 104.6 115.1 111.1Q114 104.6 116 89.8Z"/><path d="M249.8 84.3Q254 80.3 258.3 83.3L255.5 94.3Q251 109 247.1 115.5Q246 109 248 94.3Z"/><path d="M141.5 81.7Q145.8 77.7 150.2 80.7L147.3 91.7Q142.8 106.4 138.8 113Q137.7 106.4 139.7 91.7Z"/><path d="M273.6 86.1Q277.8 82.1 282.1 85.1L279.3 96.1Q274.8 110.8 270.9 117.4Q269.8 110.8 271.8 96.1Z"/><path d="M165.3 83.5Q169.5 79.5 173.9 82.5L171.1 93.5Q166.6 108.2 162.6 114.8Q161.5 108.2 163.5 93.5Z"/><path d="M297.5 88Q301.6 84 305.9 87L303.1 97.9Q298.6 112.7 294.7 119.2Q293.7 112.7 295.7 97.9Z"/><path d="M56.8 80.9Q61.1 76.9 65.6 79.9L62.8 90.9Q58.2 105.6 54.2 112.2Q53.1 105.6 55 90.9Z"/><path d="M189 85.3Q193.3 81.3 197.7 84.3L194.8 95.3Q190.3 110.1 186.4 116.6Q185.3 110.1 187.3 95.3Z"/><path d="M321.3 89.8Q325.5 85.8 329.8 88.8L326.9 99.8Q322.5 114.5 318.6 121.1Q317.5 114.5 319.5 99.8Z"/><path d="M80.5 82.7Q84.8 78.7 89.3 81.7L86.5 92.7Q82 107.5 77.9 114Q76.8 107.5 78.8 92.7Z"/><path d="M212.9 87.2Q217.1 83.2 221.5 86.2L218.6 97.1Q214.1 111.9 210.2 118.5Q209.1 111.9 211.1 97.1Z"/><path d="M104.3 84.5Q108.6 80.5 113.1 83.5L110.2 94.5Q105.7 109.3 101.7 115.9Q100.6 109.3 102.5 94.5Z"/><path d="M236.7 89Q240.9 85 245.3 88L242.4 99Q237.9 113.7 234 120.3Q232.9 113.7 234.9 99Z"/><path d="M128.1 86.4Q132.4 82.4 136.8 85.4L134 96.4Q129.5 111.1 125.5 117.7Q124.4 111.1 126.3 96.4Z"/><path d="M260.6 90.8Q264.8 86.8 269.1 89.8L266.3 100.8Q261.8 115.6 257.9 122.2Q256.8 115.6 258.8 100.8Z"/><path d="M151.9 88.2Q156.2 84.2 160.6 87.2L157.8 98.2Q153.3 113 149.3 119.6Q148.2 113 150.1 98.2Z"/><path d="M284.5 92.7Q288.7 88.7 293 91.7L290.2 102.7Q285.7 117.4 281.7 124Q280.7 117.4 282.7 102.7Z"/><path d="M175.8 90Q180 86 184.5 89L181.6 100Q177.1 114.8 173.1 121.4Q172 114.8 174 100Z"/><path d="M308.4 94.5Q312.6 90.5 316.9 93.5L314.1 104.5Q309.6 119.3 305.6 125.8Q304.6 119.3 306.6 104.5Z"/><path d="M67 87.4Q71.3 83.4 75.8 86.4L72.9 97.4Q68.4 112.2 64.4 118.8Q63.2 112.2 65.2 97.4Z"/><path d="M199.6 91.9Q203.9 87.9 208.3 90.9L205.5 101.9Q200.9 116.7 197 123.2Q195.9 116.7 197.9 101.9Z"/><path d="M332.4 96.4Q336.5 92.4 340.8 95.4L338 106.3Q333.5 121.1 329.6 127.7Q328.6 121.1 330.6 106.3Z"/><path d="M90.8 89.2Q95.1 85.2 99.6 88.2L96.7 99.3Q92.2 114.1 88.2 120.6Q87 114.1 89 99.3Z"/><path d="M223.6 93.7Q227.8 89.7 232.2 92.7L229.3 103.7Q224.8 118.5 220.8 125.1Q219.8 118.5 221.8 103.7Z"/><path d="M114.6 91.1Q118.9 87.1 123.4 90.1L120.6 101.1Q116 115.9 112 122.5Q110.9 115.9 112.9 101.1Z"/><path d="M247.5 95.6Q251.7 91.6 256.1 94.6L253.2 105.6Q248.7 120.4 244.8 126.9Q243.7 120.4 245.7 105.6Z"/><path d="M138.5 92.9Q142.8 88.9 147.3 91.9L144.4 102.9Q139.9 117.8 135.9 124.3Q134.8 117.8 136.7 102.9Z"/><path d="M271.4 97.4Q275.7 93.4 280 96.4L277.2 107.4Q272.7 122.2 268.7 128.8Q267.7 122.2 269.7 107.4Z"/><path d="M162.4 94.8Q166.7 90.8 171.1 93.8L168.3 104.8Q163.8 119.6 159.8 126.2Q158.7 119.6 160.6 104.8Z"/><path d="M295.4 99.3Q299.6 95.3 304 98.3L301.1 109.3Q296.6 124.1 292.7 130.7Q291.6 124.1 293.6 109.3Z"/><path d="M186.4 96.6Q190.6 92.6 195.1 95.6L192.2 106.6Q187.7 121.5 183.7 128Q182.6 121.5 184.6 106.6Z"/><path d="M319.4 101.1Q323.6 97.1 327.9 100.1L325.1 111.1Q320.6 125.9 316.7 132.5Q315.6 125.9 317.7 111.1Z"/><path d="M77.2 94Q81.5 90 86 93L83.2 104Q78.6 118.8 74.6 125.4Q73.4 118.8 75.4 104Z"/><path d="M210.3 98.5Q214.6 94.5 219 97.5L216.1 108.5Q211.6 123.3 207.6 129.9Q206.5 123.3 208.5 108.5Z"/><path d="M343.5 103Q347.7 99 351.9 102L349.1 113Q344.6 127.8 340.7 134.4Q339.7 127.8 341.7 113Z"/><path d="M101.1 95.8Q105.4 91.8 109.9 94.8L107.1 105.9Q102.5 120.7 98.5 127.3Q97.3 120.7 99.3 105.9Z"/><path d="M234.3 100.3Q238.6 96.3 242.9 99.3L240.1 110.4Q235.6 125.2 231.6 131.8Q230.5 125.2 232.5 110.4Z"/><path d="M125 97.7Q129.3 93.7 133.8 96.7L131 107.7Q126.4 122.6 122.4 129.2Q121.3 122.6 123.3 107.7Z"/><path d="M258.3 102.2Q262.6 98.2 266.9 101.2L264.1 112.2Q259.6 127 255.6 133.6Q254.5 127 256.5 112.2Z"/><path d="M149 99.5Q153.3 95.5 157.8 98.5L154.9 109.6Q150.4 124.4 146.4 131Q145.2 124.4 147.2 109.6Z"/><path d="M282.4 104Q286.6 100 290.9 103L288.1 114.1Q283.6 128.9 279.6 135.5Q278.6 128.9 280.6 114.1Z"/><path d="M173 101.4Q177.3 97.4 181.7 100.4L178.9 111.4Q174.3 126.3 170.3 132.9Q169.2 126.3 171.2 111.4Z"/><path d="M306.4 105.9Q310.7 101.9 315 104.9L312.1 115.9Q307.6 130.8 303.7 137.4Q302.6 130.8 304.7 115.9Z"/><path d="M197 103.2Q201.3 99.2 205.7 102.2L202.9 113.3Q198.3 128.1 194.3 134.7Q193.2 128.1 195.2 113.3Z"/><path d="M330.5 107.7Q334.7 103.7 339.1 106.7L336.2 117.8Q331.7 132.6 327.8 139.2Q326.7 132.6 328.8 117.8Z"/><path d="M87.5 100.6Q91.8 96.6 96.4 99.6L93.5 110.7Q88.9 125.5 84.9 132.1Q83.7 125.5 85.7 110.7Z"/><path d="M221.1 105.1Q225.3 101.1 229.7 104.1L226.9 115.2Q222.4 130 218.4 136.6Q217.3 130 219.3 115.2Z"/><path d="M111.5 102.5Q115.8 98.5 120.3 101.5L117.5 112.5Q112.9 127.4 108.9 134Q107.7 127.4 109.7 112.5Z"/><path d="M245.1 107Q249.4 103 253.8 106L250.9 117Q246.4 131.9 242.4 138.5Q241.3 131.9 243.4 117Z"/><path d="M135.5 104.3Q139.8 100.3 144.3 103.3L141.5 114.4Q136.9 129.3 132.9 135.9Q131.7 129.3 133.7 114.4Z"/><path d="M269.2 108.8Q273.5 104.8 277.9 107.8L275 118.9Q270.5 133.7 266.5 140.4Q265.4 133.7 267.5 118.9Z"/><path d="M159.6 106.2Q163.9 102.2 168.3 105.2L165.5 116.2Q160.9 131.1 156.9 137.7Q155.8 131.1 157.8 116.2Z"/><path d="M293.4 110.7Q297.6 106.7 302 109.7L299.1 120.8Q294.6 135.6 290.6 142.2Q289.6 135.6 291.6 120.8Z"/><path d="M183.6 108Q187.9 104 192.4 107L189.5 118.1Q185 133 181 139.6Q179.9 133 181.9 118.1Z"/><path d="M317.5 112.6Q321.8 108.6 326.1 111.6L323.2 122.6Q318.7 137.5 314.8 144.1Q313.7 137.5 315.7 122.6Z"/><path d="M207.7 109.9Q212 105.9 216.5 108.9L213.6 120Q209.1 134.9 205.1 141.5Q204 134.9 206 120Z"/><path d="M97.8 107.3Q102.2 103.3 106.8 106.3L103.9 117.3Q99.3 132.2 95.2 138.9Q94.1 132.2 96.1 117.3Z"/><path d="M231.9 111.8Q236.2 107.8 240.6 110.8L237.7 121.9Q233.2 136.7 229.2 143.4Q228.1 136.7 230.1 121.9Z"/><path d="M121.9 109.1Q126.3 105.1 130.8 108.1L127.9 119.2Q123.4 134.1 119.3 140.7Q118.2 134.1 120.1 119.2Z"/><path d="M256 113.6Q260.3 109.6 264.7 112.6L261.9 123.7Q257.3 138.6 253.3 145.2Q252.2 138.6 254.3 123.7Z"/><path d="M146 111Q150.4 107 154.9 110L152 121.1Q147.4 136 143.4 142.6Q142.3 136 144.3 121.1Z"/><path d="M280.2 115.5Q284.5 111.5 288.9 114.5L286 125.6Q281.5 140.5 277.5 147.1Q276.4 140.5 278.4 125.6Z"/><path d="M170.2 112.9Q174.5 108.9 179 111.9L176.1 123Q171.6 137.9 167.5 144.5Q166.4 137.9 168.4 123Z"/><path d="M304.5 117.4Q308.7 113.4 313.1 116.4L310.2 127.5Q305.7 142.4 301.7 149Q300.6 142.4 302.7 127.5Z"/><path d="M194.4 114.7Q198.7 110.7 203.1 113.7L200.3 124.8Q195.7 139.8 191.7 146.4Q190.6 139.8 192.6 124.8Z"/><path d="M218.6 116.6Q222.8 112.6 227.3 115.6L224.4 126.7Q219.9 141.6 215.8 148.3Q214.8 141.6 216.8 126.7Z"/><path d="M108.3 114Q112.6 110 117.2 113L114.3 124.1Q109.7 139 105.7 145.6Q104.5 139 106.5 124.1Z"/><path d="M242.8 118.5Q247.1 114.5 251.5 117.5L248.6 128.6Q244.1 143.5 240.1 150.2Q239 143.5 241 128.6Z"/><path d="M132.5 115.8Q136.8 111.8 141.3 114.8L138.5 126Q133.9 140.9 129.8 147.5Q128.7 140.9 130.7 126Z"/><path d="M267 120.4Q271.3 116.4 275.7 119.4L272.8 130.5Q268.3 145.4 264.3 152Q263.2 145.4 265.2 130.5Z"/><path d="M156.7 117.7Q161 113.7 165.5 116.7L162.6 127.8Q158.1 142.8 154 149.4Q152.9 142.8 154.9 127.8Z"/><path d="M291.3 122.3Q295.6 118.3 300 121.3L297.1 132.4Q292.5 147.3 288.6 153.9Q287.5 147.3 289.5 132.4Z"/><path d="M180.9 119.6Q185.2 115.6 189.7 118.6L186.8 129.7Q182.3 144.7 178.2 151.3Q177.1 144.7 179.1 129.7Z"/><path d="M205.1 121.5Q209.5 117.5 213.9 120.5L211.1 131.6Q206.5 146.6 202.5 153.2Q201.3 146.6 203.3 131.6Z"/><path d="M229.4 123.4Q233.7 119.4 238.2 122.4L235.3 133.5Q230.7 148.5 226.7 155.1Q225.6 148.5 227.6 133.5Z"/><path d="M118.8 120.7Q123.2 116.7 127.7 119.7L124.8 130.9Q120.2 145.8 116.2 152.5Q115 145.8 117 130.9Z"/><path d="M253.7 125.3Q258 121.3 262.5 124.3L259.6 135.4Q255 150.4 251 157Q249.9 150.4 251.9 135.4Z"/><path d="M143.1 122.6Q147.4 118.6 152 121.6L149.1 132.7Q144.5 147.7 140.4 154.4Q139.3 147.7 141.3 132.7Z"/><path d="M278.1 127.2Q282.3 123.2 286.8 126.2L283.9 137.3Q279.3 152.3 275.3 158.9Q274.3 152.3 276.3 137.3Z"/><path d="M167.3 124.5Q171.7 120.5 176.2 123.5L173.3 134.6Q168.7 149.6 164.7 156.3Q163.5 149.6 165.5 134.6Z"/><path d="M191.7 126.4Q196 122.4 200.5 125.4L197.6 136.5Q193 151.5 189 158.2Q187.9 151.5 189.9 136.5Z"/><path d="M216 128.3Q220.3 124.3 224.8 127.3L221.9 138.4Q217.3 153.4 213.3 160.1Q212.2 153.4 214.2 138.4Z"/><path d="M240.4 130.2Q244.7 126.2 249.2 129.2L246.3 140.3Q241.7 155.3 237.7 162Q236.6 155.3 238.6 140.3Z"/><path d="M129.4 127.5Q133.7 123.5 138.3 126.5L135.4 137.7Q130.8 152.7 126.7 159.3Q125.6 152.7 127.6 137.7Z"/><path d="M264.8 132.1Q269.1 128.1 273.5 131.1L270.6 142.2Q266.1 157.2 262 163.9Q261 157.2 263 142.2Z"/><path d="M153.7 129.4Q158.1 125.4 162.6 128.4L159.8 139.6Q155.1 154.6 151.1 161.3Q149.9 154.6 151.9 139.6Z"/><path d="M178.1 131.3Q182.4 127.3 187 130.3L184.1 141.5Q179.5 156.5 175.4 163.2Q174.3 156.5 176.3 141.5Z"/><path d="M202.5 133.2Q206.8 129.2 211.4 132.2L208.5 143.4Q203.9 158.4 199.8 165.1Q198.7 158.4 200.7 143.4Z"/><path d="M226.9 135.1Q231.3 131.1 235.8 134.1L232.9 145.3Q228.3 160.3 224.2 167Q223.1 160.3 225.1 145.3Z"/><path d="M251.4 137Q255.7 133 260.2 136L257.3 147.2Q252.7 162.2 248.7 168.9Q247.6 162.2 249.6 147.2Z"/><path d="M140 134.4Q144.4 130.4 149 133.4L146.1 144.5Q141.5 159.6 137.4 166.3Q136.2 159.6 138.2 144.5Z"/><path d="M164.5 136.3Q168.8 132.3 173.4 135.3L170.5 146.5Q165.9 161.5 161.8 168.2Q160.7 161.5 162.7 146.5Z"/><path d="M188.9 138.2Q193.3 134.2 197.8 137.2L194.9 148.4Q190.3 163.4 186.2 170.1Q185.1 163.4 187.1 148.4Z"/><path d="M213.4 140.1Q217.8 136.1 222.3 139.1L219.4 150.3Q214.8 165.3 210.7 172Q209.6 165.3 211.6 150.3Z"/><path d="M238 142Q242.3 138 246.8 141L243.9 152.2Q239.3 167.3 235.2 173.9Q234.1 167.3 236.1 152.2Z"/><path d="M150.8 141.2Q155.1 137.2 159.7 140.2L156.8 151.5Q152.2 166.5 148.1 173.2Q146.9 166.5 148.9 151.5Z"/><path d="M175.3 143.2Q179.7 139.2 184.2 142.2L181.3 153.4Q176.7 168.5 172.6 175.2Q171.5 168.5 173.5 153.4Z"/><path d="M199.8 145.1Q204.2 141.1 208.8 144.1L205.9 155.3Q201.2 170.4 197.1 177.1Q196 170.4 198 155.3Z"/><path d="M224.4 147Q228.8 143 233.3 146L230.4 157.2Q225.8 172.3 221.7 179Q220.6 172.3 222.6 157.2Z"/><path d="M161.6 148.2Q165.9 144.2 170.6 147.2L167.6 158.4Q163 173.5 158.9 180.2Q157.7 173.5 159.7 158.4Z"/><path d="M186.2 150.1Q190.5 146.1 195.1 149.1L192.2 160.4Q187.6 175.5 183.5 182.2Q182.3 175.5 184.4 160.4Z"/><path d="M210.8 152Q215.2 148 219.8 151L216.8 162.3Q212.2 177.4 208.1 184.1Q207 177.4 209 162.3Z"/><path d="M172.4 155.2Q176.8 151.2 181.4 154.2L178.5 165.4Q173.9 180.6 169.8 187.3Q168.6 180.6 170.6 165.4Z"/><path d="M197.1 157.1Q201.5 153.1 206.1 156.1L203.2 167.4Q198.6 182.5 194.4 189.2Q193.3 182.5 195.3 167.4Z"/><path d="M183.4 162.2Q187.8 158.2 192.4 161.2L189.5 172.5Q184.8 187.7 180.7 194.4Q179.5 187.7 181.5 172.5Z"/></g></g>
<g stroke="#fff" stroke-width="1.6" fill="none" stroke-linecap="round" stroke-linejoin="miter"><path d="M56.3 188.3L58.1 159.8M60.7 164L58.1 159.8L54.9 163.7M56.3 188.3L82 179.6M79.1 183.7L82 179.6L77.2 178.2M56.3 188.3L77.1 200.9M72.1 201.3L77.1 200.9L75.1 196.3"/></g>
<g fill="#fff" class="w" font-size="9.5" font-style="italic"><text x="58.2" y="156.8" text-anchor="middle">z</text><text x="88" y="181.3" text-anchor="middle">y</text><text x="79" y="211.8" text-anchor="middle">x</text></g>
<g stroke="#dc2a24" stroke-width="2" fill="none" stroke-linejoin="miter"><path d="M253.1 94.1L308.2 77.7L358.6 103.1L303.5 119.8Z"/><path d="M308.2 77.7L381 49.5M303.5 119.8L378.6 195"/></g>
<rect x="379" y="50" width="159" height="145" fill="#050505"/>
<g clip-path="url(#clipC)"><g filter="url(#blr2)"><g opacity="0.5"><path d="M468 167.6Q468 164.6 471 164.6Q474 164.6 474 167.6L471.7 202.1L470.3 202.1Z" fill="url(#cg2)"/><ellipse cx="471" cy="166.9" rx="2.7" ry="2" fill="#8ee27a"/></g><g opacity="0.5"><path d="M450.1 169.7Q450.1 166.7 453.1 166.7Q456.1 166.7 456.1 169.7L453.8 204.2L452.4 204.2Z" fill="url(#cg2)"/><ellipse cx="453.1" cy="169" rx="2.7" ry="2" fill="#8ee27a"/></g><g opacity="0.5"><path d="M432.1 171.8Q432.1 168.8 435.1 168.8Q438.1 168.8 438.1 171.8L435.8 206.3L434.4 206.3Z" fill="url(#cg2)"/><ellipse cx="435.1" cy="171.1" rx="2.7" ry="2" fill="#8ee27a"/></g><g opacity="0.5"><path d="M414.2 173.9Q414.2 170.9 417.2 170.9Q420.2 170.9 420.2 173.9L417.9 208.4L416.5 208.4Z" fill="url(#cg2)"/><ellipse cx="417.2" cy="173.2" rx="2.7" ry="2" fill="#8ee27a"/></g><g opacity="0.5"><path d="M476.4 174.4Q476.4 171.4 479.8 171.4Q483.3 171.4 483.3 174.4L480.5 210.4L479.1 210.4Z" fill="url(#cg2)"/><ellipse cx="479.8" cy="173.7" rx="3.1" ry="2" fill="#8ee27a"/></g><g opacity="0.5"><path d="M396.2 176Q396.2 173 399.2 173Q402.2 173 402.2 176L399.9 210.5L398.5 210.5Z" fill="url(#cg2)"/><ellipse cx="399.2" cy="175.3" rx="2.7" ry="2" fill="#8ee27a"/></g><g opacity="0.5"><path d="M458.4 176.5Q458.4 173.5 461.9 173.5Q465.3 173.5 465.3 176.5L462.6 212.5L461.2 212.5Z" fill="url(#cg2)"/><ellipse cx="461.9" cy="175.8" rx="3.1" ry="2" fill="#8ee27a"/></g><g opacity="0.5"><path d="M440.5 178.6Q440.5 175.6 444 175.6Q447.4 175.6 447.4 178.6L444.7 214.6L443.3 214.6Z" fill="url(#cg2)"/><ellipse cx="444" cy="177.9" rx="3.1" ry="2" fill="#8ee27a"/></g><g opacity="0.5"><path d="M422.6 180.7Q422.6 177.7 426 177.7Q429.5 177.7 429.5 180.7L426.7 216.7L425.3 216.7Z" fill="url(#cg2)"/><ellipse cx="426" cy="180" rx="3.1" ry="2" fill="#8ee27a"/></g><g opacity="0.5"><path d="M484.8 181.3Q484.8 178.3 488.7 178.3Q492.6 178.3 492.6 181.3L489.4 218.8L488 218.8Z" fill="url(#cg2)"/><ellipse cx="488.7" cy="180.6" rx="3.5" ry="2" fill="#8ee27a"/></g><g opacity="0.5"><path d="M404.6 182.8Q404.6 179.8 408.1 179.8Q411.5 179.8 411.5 182.8L408.8 218.8L407.4 218.8Z" fill="url(#cg2)"/><ellipse cx="408.1" cy="182.1" rx="3.1" ry="2" fill="#8ee27a"/></g><g opacity="0.5"><path d="M466.8 183.4Q466.8 180.4 470.7 180.4Q474.6 180.4 474.6 183.4L471.4 220.9L470 220.9Z" fill="url(#cg2)"/><ellipse cx="470.7" cy="182.7" rx="3.5" ry="2" fill="#8ee27a"/></g><g opacity="0.5"><path d="M448.9 185.5Q448.9 182.5 452.8 182.5Q456.7 182.5 456.7 185.5L453.5 223L452.1 223Z" fill="url(#cg2)"/><ellipse cx="452.8" cy="184.8" rx="3.5" ry="2" fill="#8ee27a"/></g><g opacity="0.5"><path d="M431 187.6Q431 184.6 434.9 184.6Q438.8 184.6 438.8 187.6L435.6 225.1L434.2 225.1Z" fill="url(#cg2)"/><ellipse cx="434.9" cy="186.9" rx="3.5" ry="2" fill="#8ee27a"/></g><g opacity="0.5"><path d="M493.2 188.2Q493.2 185.2 497.5 185.2Q501.9 185.2 501.9 188.2L498.2 227.2L496.8 227.2Z" fill="url(#cg2)"/><ellipse cx="497.5" cy="187.5" rx="3.9" ry="2" fill="#8ee27a"/></g><g opacity="0.5"><path d="M413 189.7Q413 186.7 416.9 186.7Q420.8 186.7 420.8 189.7L417.6 227.2L416.2 227.2Z" fill="url(#cg2)"/><ellipse cx="416.9" cy="189" rx="3.5" ry="2" fill="#8ee27a"/></g><g opacity="0.5"><path d="M475.2 190.3Q475.2 187.3 479.6 187.3Q483.9 187.3 483.9 190.3L480.3 229.3L478.9 229.3Z" fill="url(#cg2)"/><ellipse cx="479.6" cy="189.6" rx="3.9" ry="2" fill="#8ee27a"/></g><g opacity="0.5"><path d="M457.3 192.4Q457.3 189.4 461.6 189.4Q466 189.4 466 192.4L462.3 231.4L460.9 231.4Z" fill="url(#cg2)"/><ellipse cx="461.6" cy="191.7" rx="3.9" ry="2" fill="#8ee27a"/></g><g opacity="0.5"><path d="M439.3 194.5Q439.3 191.5 443.7 191.5Q448 191.5 448 194.5L444.4 233.5L443 233.5Z" fill="url(#cg2)"/><ellipse cx="443.7" cy="193.8" rx="3.9" ry="2" fill="#8ee27a"/></g><g opacity="0.5"><path d="M501.6 195Q501.6 192 506.4 192Q511.2 192 511.2 195L507.1 235.5L505.7 235.5Z" fill="url(#cg2)"/><ellipse cx="506.4" cy="194.3" rx="4.3" ry="2" fill="#8ee27a"/></g><g opacity="0.5"><path d="M421.4 196.6Q421.4 193.6 425.8 193.6Q430.1 193.6 430.1 196.6L426.5 235.6L425.1 235.6Z" fill="url(#cg2)"/><ellipse cx="425.8" cy="195.9" rx="3.9" ry="2" fill="#8ee27a"/></g><g opacity="0.5"><path d="M483.6 197.1Q483.6 194.1 488.4 194.1Q493.2 194.1 493.2 197.1L489.1 237.6L487.7 237.6Z" fill="url(#cg2)"/><ellipse cx="488.4" cy="196.4" rx="4.3" ry="2" fill="#8ee27a"/></g><g opacity="0.5"><path d="M465.7 199.2Q465.7 196.2 470.5 196.2Q475.3 196.2 475.3 199.2L471.2 239.7L469.8 239.7Z" fill="url(#cg2)"/><ellipse cx="470.5" cy="198.5" rx="4.3" ry="2" fill="#8ee27a"/></g><g opacity="0.5"><path d="M447.7 201.3Q447.7 198.3 452.5 198.3Q457.3 198.3 457.3 201.3L453.2 241.8L451.8 241.8Z" fill="url(#cg2)"/><ellipse cx="452.5" cy="200.6" rx="4.3" ry="2" fill="#8ee27a"/></g><g opacity="0.5"><path d="M429.8 203.4Q429.8 200.4 434.6 200.4Q439.4 200.4 439.4 203.4L435.3 243.9L433.9 243.9Z" fill="url(#cg2)"/><ellipse cx="434.6" cy="202.7" rx="4.3" ry="2" fill="#8ee27a"/></g><g opacity="0.3"><path d="M470.9 121Q470.9 118 473.9 118Q476.9 118 476.9 121L474.6 155.5L473.2 155.5Z" fill="url(#cg2)"/><ellipse cx="473.9" cy="120.3" rx="2.7" ry="2" fill="#8ee27a"/></g><g opacity="0.3"><path d="M453 123.1Q453 120.1 456 120.1Q459 120.1 459 123.1L456.7 157.6L455.3 157.6Z" fill="url(#cg2)"/><ellipse cx="456" cy="122.4" rx="2.7" ry="2" fill="#8ee27a"/></g><g opacity="0.3"><path d="M435.1 125.2Q435.1 122.2 438.1 122.2Q441.1 122.2 441.1 125.2L438.8 159.7L437.4 159.7Z" fill="url(#cg2)"/><ellipse cx="438.1" cy="124.5" rx="2.7" ry="2" fill="#8ee27a"/></g><g opacity="0.3"><path d="M417.1 127.3Q417.1 124.3 420.1 124.3Q423.1 124.3 423.1 127.3L420.8 161.8L419.4 161.8Z" fill="url(#cg2)"/><ellipse cx="420.1" cy="126.6" rx="2.7" ry="2" fill="#8ee27a"/></g><g opacity="0.35"><path d="M479.3 127.9Q479.3 124.9 482.8 124.9Q486.2 124.9 486.2 127.9L483.5 163.9L482.1 163.9Z" fill="url(#cg2)"/><ellipse cx="482.8" cy="127.2" rx="3.1" ry="2" fill="#8ee27a"/></g><g opacity="0.8"><path d="M399.2 129.4Q399.2 126.4 402.2 126.4Q405.2 126.4 405.2 129.4L402.9 163.9L401.5 163.9Z" fill="url(#cg2)"/><ellipse cx="402.2" cy="128.7" rx="2.7" ry="2" fill="#8ee27a"/></g><g opacity="0.35"><path d="M461.4 130Q461.4 127 464.8 127Q468.3 127 468.3 130L465.5 166L464.1 166Z" fill="url(#cg2)"/><ellipse cx="464.8" cy="129.3" rx="3.1" ry="2" fill="#8ee27a"/></g><g opacity="0.35"><path d="M443.5 132.1Q443.5 129.1 446.9 129.1Q450.4 129.1 450.4 132.1L447.6 168.1L446.2 168.1Z" fill="url(#cg2)"/><ellipse cx="446.9" cy="131.4" rx="3.1" ry="2" fill="#8ee27a"/></g><g opacity="0.35"><path d="M425.5 134.2Q425.5 131.2 429 131.2Q432.4 131.2 432.4 134.2L429.7 170.2L428.3 170.2Z" fill="url(#cg2)"/><ellipse cx="429" cy="133.5" rx="3.1" ry="2" fill="#8ee27a"/></g><g opacity="0.45"><path d="M487.7 134.7Q487.7 131.7 491.6 131.7Q495.5 131.7 495.5 134.7L492.3 172.2L490.9 172.2Z" fill="url(#cg2)"/><ellipse cx="491.6" cy="134" rx="3.5" ry="2" fill="#8ee27a"/></g><g opacity="0.8"><path d="M407.6 136.3Q407.6 133.3 411 133.3Q414.5 133.3 414.5 136.3L411.7 172.3L410.3 172.3Z" fill="url(#cg2)"/><ellipse cx="411" cy="135.6" rx="3.1" ry="2" fill="#8ee27a"/></g><g opacity="0.45"><path d="M469.8 136.8Q469.8 133.8 473.7 133.8Q477.6 133.8 477.6 136.8L474.4 174.3L473 174.3Z" fill="url(#cg2)"/><ellipse cx="473.7" cy="136.1" rx="3.5" ry="2" fill="#8ee27a"/></g><g opacity="0.45"><path d="M451.8 138.9Q451.8 135.9 455.7 135.9Q459.6 135.9 459.6 138.9L456.4 176.4L455 176.4Z" fill="url(#cg2)"/><ellipse cx="455.7" cy="138.2" rx="3.5" ry="2" fill="#8ee27a"/></g><g opacity="0.45"><path d="M433.9 141Q433.9 138 437.8 138Q441.7 138 441.7 141L438.5 178.5L437.1 178.5Z" fill="url(#cg2)"/><ellipse cx="437.8" cy="140.3" rx="3.5" ry="2" fill="#8ee27a"/></g><g opacity="0.75"><path d="M496.1 141.6Q496.1 138.6 500.5 138.6Q504.8 138.6 504.8 141.6L501.2 180.6L499.8 180.6Z" fill="url(#cg2)"/><ellipse cx="500.5" cy="140.9" rx="3.9" ry="2" fill="#8ee27a"/></g><g opacity="0.8"><path d="M416 143.1Q416 140.1 419.9 140.1Q423.8 140.1 423.8 143.1L420.6 180.6L419.2 180.6Z" fill="url(#cg2)"/><ellipse cx="419.9" cy="142.4" rx="3.5" ry="2" fill="#8ee27a"/></g><g opacity="0.75"><path d="M478.2 143.7Q478.2 140.7 482.5 140.7Q486.9 140.7 486.9 143.7L483.2 182.7L481.8 182.7Z" fill="url(#cg2)"/><ellipse cx="482.5" cy="143" rx="3.9" ry="2" fill="#8ee27a"/></g><g opacity="0.75"><path d="M460.2 145.8Q460.2 142.8 464.6 142.8Q468.9 142.8 468.9 145.8L465.3 184.8L463.9 184.8Z" fill="url(#cg2)"/><ellipse cx="464.6" cy="145.1" rx="3.9" ry="2" fill="#8ee27a"/></g><g opacity="0.75"><path d="M442.3 147.9Q442.3 144.9 446.6 144.9Q451 144.9 451 147.9L447.3 186.9L445.9 186.9Z" fill="url(#cg2)"/><ellipse cx="446.6" cy="147.2" rx="3.9" ry="2" fill="#8ee27a"/></g><g opacity="1"><path d="M504.5 148.4Q504.5 145.4 509.3 145.4Q514.1 145.4 514.1 148.4L510 188.9L508.6 188.9Z" fill="url(#cg2)"/><ellipse cx="509.3" cy="147.7" rx="4.3" ry="2" fill="#8ee27a"/></g><g opacity="0.8"><path d="M424.4 150Q424.4 147 428.7 147Q433.1 147 433.1 150L429.4 189L428 189Z" fill="url(#cg2)"/><ellipse cx="428.7" cy="149.3" rx="3.9" ry="2" fill="#8ee27a"/></g><g opacity="1"><path d="M486.6 150.5Q486.6 147.5 491.4 147.5Q496.2 147.5 496.2 150.5L492.1 191L490.7 191Z" fill="url(#cg2)"/><ellipse cx="491.4" cy="149.8" rx="4.3" ry="2" fill="#8ee27a"/></g><g opacity="1"><path d="M468.6 152.6Q468.6 149.6 473.4 149.6Q478.2 149.6 478.2 152.6L474.1 193.1L472.7 193.1Z" fill="url(#cg2)"/><ellipse cx="473.4" cy="151.9" rx="4.3" ry="2" fill="#8ee27a"/></g><g opacity="1"><path d="M450.7 154.7Q450.7 151.7 455.5 151.7Q460.3 151.7 460.3 154.7L456.2 195.2L454.8 195.2Z" fill="url(#cg2)"/><ellipse cx="455.5" cy="154" rx="4.3" ry="2" fill="#8ee27a"/></g><g opacity="0.8"><path d="M432.7 156.8Q432.7 153.8 437.5 153.8Q442.3 153.8 442.3 156.8L438.2 197.3L436.8 197.3Z" fill="url(#cg2)"/><ellipse cx="437.5" cy="156.1" rx="4.3" ry="2" fill="#8ee27a"/></g><g opacity="0.75"><path d="M473.9 74.4Q473.9 71.4 476.9 71.4Q479.9 71.4 479.9 74.4L477.6 108.9L476.2 108.9Z" fill="url(#cg2)"/><ellipse cx="476.9" cy="73.7" rx="2.7" ry="2" fill="#8ee27a"/></g><g opacity="0.75"><path d="M455.9 76.5Q455.9 73.5 458.9 73.5Q461.9 73.5 461.9 76.5L459.6 111L458.2 111Z" fill="url(#cg2)"/><ellipse cx="458.9" cy="75.8" rx="2.7" ry="2" fill="#8ee27a"/></g><g opacity="0.75"><path d="M438 78.6Q438 75.6 441 75.6Q444 75.6 444 78.6L441.7 113.1L440.3 113.1Z" fill="url(#cg2)"/><ellipse cx="441" cy="77.9" rx="2.7" ry="2" fill="#8ee27a"/></g><g opacity="0.75"><path d="M420.1 80.7Q420.1 77.7 423.1 77.7Q426.1 77.7 426.1 80.7L423.8 115.2L422.4 115.2Z" fill="url(#cg2)"/><ellipse cx="423.1" cy="80" rx="2.7" ry="2" fill="#8ee27a"/></g><g opacity="0.81"><path d="M482.3 81.3Q482.3 78.3 485.7 78.3Q489.2 78.3 489.2 81.3L486.4 117.3L485 117.3Z" fill="url(#cg2)"/><ellipse cx="485.7" cy="80.6" rx="3.1" ry="2" fill="#8ee27a"/></g><g opacity="0.75"><path d="M402.1 82.8Q402.1 79.8 405.1 79.8Q408.1 79.8 408.1 82.8L405.8 117.3L404.4 117.3Z" fill="url(#cg2)"/><ellipse cx="405.1" cy="82.1" rx="2.7" ry="2" fill="#8ee27a"/></g><g opacity="0.81"><path d="M464.3 83.4Q464.3 80.4 467.8 80.4Q471.2 80.4 471.2 83.4L468.5 119.4L467.1 119.4Z" fill="url(#cg2)"/><ellipse cx="467.8" cy="82.7" rx="3.1" ry="2" fill="#8ee27a"/></g><g opacity="0.81"><path d="M446.4 85.5Q446.4 82.5 449.8 82.5Q453.3 82.5 453.3 85.5L450.5 121.5L449.1 121.5Z" fill="url(#cg2)"/><ellipse cx="449.8" cy="84.8" rx="3.1" ry="2" fill="#8ee27a"/></g><g opacity="0.81"><path d="M428.5 87.6Q428.5 84.6 431.9 84.6Q435.4 84.6 435.4 87.6L432.6 123.6L431.2 123.6Z" fill="url(#cg2)"/><ellipse cx="431.9" cy="86.9" rx="3.1" ry="2" fill="#8ee27a"/></g><g opacity="0.87"><path d="M490.7 88.1Q490.7 85.1 494.6 85.1Q498.5 85.1 498.5 88.1L495.3 125.6L493.9 125.6Z" fill="url(#cg2)"/><ellipse cx="494.6" cy="87.4" rx="3.5" ry="2" fill="#8ee27a"/></g><g opacity="0.81"><path d="M410.5 89.7Q410.5 86.7 414 86.7Q417.4 86.7 417.4 89.7L414.7 125.7L413.3 125.7Z" fill="url(#cg2)"/><ellipse cx="414" cy="89" rx="3.1" ry="2" fill="#8ee27a"/></g><g opacity="0.87"><path d="M472.7 90.2Q472.7 87.2 476.6 87.2Q480.5 87.2 480.5 90.2L477.3 127.7L475.9 127.7Z" fill="url(#cg2)"/><ellipse cx="476.6" cy="89.5" rx="3.5" ry="2" fill="#8ee27a"/></g><g opacity="0.87"><path d="M454.8 92.3Q454.8 89.3 458.7 89.3Q462.6 89.3 462.6 92.3L459.4 129.8L458 129.8Z" fill="url(#cg2)"/><ellipse cx="458.7" cy="91.6" rx="3.5" ry="2" fill="#8ee27a"/></g><g opacity="0.87"><path d="M436.8 94.4Q436.8 91.4 440.7 91.4Q444.6 91.4 444.6 94.4L441.4 131.9L440 131.9Z" fill="url(#cg2)"/><ellipse cx="440.7" cy="93.7" rx="3.5" ry="2" fill="#8ee27a"/></g><g opacity="0.93"><path d="M499.1 95Q499.1 92 503.4 92Q507.8 92 507.8 95L504.1 134L502.7 134Z" fill="url(#cg2)"/><ellipse cx="503.4" cy="94.3" rx="3.9" ry="2" fill="#8ee27a"/></g><g opacity="0.87"><path d="M418.9 96.5Q418.9 93.5 422.8 93.5Q426.7 93.5 426.7 96.5L423.5 134L422.1 134Z" fill="url(#cg2)"/><ellipse cx="422.8" cy="95.8" rx="3.5" ry="2" fill="#8ee27a"/></g><g opacity="0.93"><path d="M481.1 97.1Q481.1 94.1 485.5 94.1Q489.8 94.1 489.8 97.1L486.2 136.1L484.8 136.1Z" fill="url(#cg2)"/><ellipse cx="485.5" cy="96.4" rx="3.9" ry="2" fill="#8ee27a"/></g><g opacity="0.93"><path d="M463.2 99.2Q463.2 96.2 467.5 96.2Q471.9 96.2 471.9 99.2L468.2 138.2L466.8 138.2Z" fill="url(#cg2)"/><ellipse cx="467.5" cy="98.5" rx="3.9" ry="2" fill="#8ee27a"/></g><g opacity="0.93"><path d="M445.2 101.3Q445.2 98.3 449.6 98.3Q453.9 98.3 453.9 101.3L450.3 140.3L448.9 140.3Z" fill="url(#cg2)"/><ellipse cx="449.6" cy="100.6" rx="3.9" ry="2" fill="#8ee27a"/></g><g opacity="0.99"><path d="M507.4 101.8Q507.4 98.8 512.2 98.8Q517 98.8 517 101.8L512.9 142.3L511.5 142.3Z" fill="url(#cg2)"/><ellipse cx="512.2" cy="101.1" rx="4.3" ry="2" fill="#8ee27a"/></g><g opacity="0.93"><path d="M427.3 103.4Q427.3 100.4 431.6 100.4Q436 100.4 436 103.4L432.3 142.4L430.9 142.4Z" fill="url(#cg2)"/><ellipse cx="431.6" cy="102.7" rx="3.9" ry="2" fill="#8ee27a"/></g><g opacity="0.99"><path d="M489.5 103.9Q489.5 100.9 494.3 100.9Q499.1 100.9 499.1 103.9L495 144.4L493.6 144.4Z" fill="url(#cg2)"/><ellipse cx="494.3" cy="103.2" rx="4.3" ry="2" fill="#8ee27a"/></g><g opacity="0.99"><path d="M471.6 106Q471.6 103 476.4 103Q481.2 103 481.2 106L477.1 146.5L475.7 146.5Z" fill="url(#cg2)"/><ellipse cx="476.4" cy="105.3" rx="4.3" ry="2" fill="#8ee27a"/></g><g opacity="0.99"><path d="M453.6 108.1Q453.6 105.1 458.4 105.1Q463.2 105.1 463.2 108.1L459.1 148.6L457.7 148.6Z" fill="url(#cg2)"/><ellipse cx="458.4" cy="107.4" rx="4.3" ry="2" fill="#8ee27a"/></g><g opacity="0.99"><path d="M435.7 110.2Q435.7 107.2 440.5 107.2Q445.3 107.2 445.3 110.2L441.2 150.7L439.8 150.7Z" fill="url(#cg2)"/><ellipse cx="440.5" cy="109.5" rx="4.3" ry="2" fill="#8ee27a"/></g></g></g>
<g stroke="#fff" stroke-width="1.8" fill="none" stroke-linejoin="round"><path d="M392.8 62.1L482.5 51.6L527.6 86.5L437 96.4ZM392.8 62.1L386.8 157L431.8 191.9L522.3 182.3L527.6 86.5M437 96.4L431.8 191.9"/></g>
<g fill="#fff" class="w" font-size="9.2"><text x="437.2" y="69.6" text-anchor="middle" transform="rotate(-6.5 437.2 66)">14 µm</text><text x="517" y="69" text-anchor="middle" transform="rotate(38 517 66)">14 µm</text><text x="507.5" y="137" text-anchor="middle">22 µm</text></g>
<text class="serif" x="38.5" y="249" font-size="13" fill="#111">(b)</text>
<rect x="41.2" y="257.5" width="207.6" height="163.6" fill="#e2d434"/>
<rect x="140" y="257.5" width="108.8" height="163.6" fill="url(#hm)"/>
<rect x="41.2" y="257.5" width="207.6" height="163.6" filter="url(#nz)" style="mix-blend-mode:overlay" opacity="0.35"/>
<rect x="41.2" y="257.5" width="207.6" height="163.6" fill="none" stroke="#1a1a1a" stroke-width="1.1"/>
<path d="M41.2 421h3.3M41.2 388.7h3.3M41.2 356.4h3.3M41.2 324.1h3.3M41.2 291.8h3.3M41.2 259.5h3.3M41.2 421.1v-3.3M75.3 421.1v-3.3M109.5 421.1v-3.3M143.6 421.1v-3.3M177.7 421.1v-3.3M211.8 421.1v-3.3M246 421.1v-3.3" stroke="#1a1a1a" stroke-width="1.1" fill="none"/>
<g font-size="9.6" fill="#111"><text x="36.3" y="424.4" text-anchor="end">0</text><text x="36.3" y="392.1" text-anchor="end">20</text><text x="36.3" y="359.8" text-anchor="end">40</text><text x="36.3" y="327.5" text-anchor="end">60</text><text x="36.3" y="295.2" text-anchor="end">80</text><text x="36.3" y="262.9" text-anchor="end">100</text><text x="41.2" y="433.3" text-anchor="middle">0</text><text x="75.3" y="433.3" text-anchor="middle">20</text><text x="109.5" y="433.3" text-anchor="middle">40</text><text x="143.6" y="433.3" text-anchor="middle">60</text><text x="177.7" y="433.3" text-anchor="middle">80</text><text x="211.8" y="433.3" text-anchor="middle">100</text><text x="246" y="433.3" text-anchor="middle">120</text></g>
<text x="144.7" y="447.3" font-size="9" fill="#111" text-anchor="middle"><tspan font-style="italic">x</tspan> (µm)</text>
<text transform="translate(11.6 339.5) rotate(-90)" font-size="9.3" fill="#111" text-anchor="middle"><tspan font-style="italic">y</tspan> (µm)</text>
<text x="46.3" y="270.4" font-size="9.4" fill="#111">Non-engineered area</text>
<text x="143.7" y="270.4" font-size="9.4" fill="#111">Engineered area</text>
<path d="M89 321.2H215.5" stroke="#111" stroke-width="1.5"/>
<circle cx="48.9" cy="334.4" r="1.3" fill="#2a8ad8"/>
<rect x="252.6" y="257.5" width="11.8" height="165.1" fill="url(#par)" stroke="#1a1a1a" stroke-width="1.1"/>
<path d="M264.4 273.8h-3M264.4 290.8h-3M264.4 307.8h-3M264.4 324.8h-3M264.4 341.8h-3M264.4 358.8h-3M264.4 375.7h-3M264.4 392.7h-3M264.4 409.7h-3" stroke="#1a1a1a" stroke-width="1.1"/>
<g font-size="9.6" fill="#111"><text x="269.5" y="259.7">1</text><text x="269.3" y="425.8">0</text></g>
<text transform="translate(277.5 341) rotate(90)" font-size="9.3" fill="#111" text-anchor="middle">SH intensity (a.u.)</text>
<text class="serif" x="333.2" y="248.7" font-size="13" fill="#111">(c)</text>
<path d="M335.8 285.6L336.4 283.9L337.2 287.3L337.9 279.6L338.5 287.7L339 287L339.6 285L340.3 280.7L340.9 279.4L341.5 281.7L341.9 288.4L342.4 286.7L342.9 287.2L343.6 287.9L344.2 281.4L344.8 284.8L345.6 289.9L346.1 286.8L346.7 287.5L347.2 294.8L347.8 285.4L348.3 282.7L349 287.1L349.5 292.9L350.2 291.2L350.7 287L351.4 289.5L352 289.7L352.5 281.3L353 292L353.6 287.8L354.3 283.1L354.9 284.8L355.6 286.5L356.1 281.4L356.8 284.9L357.4 287.2L358 284L358.5 293.7L358.9 287.4L359.6 284.4L360.1 285.6L360.7 286.5L361.2 288L361.9 295.3L362.6 285.1L363 283.9L363.7 285.2L364.4 279.3L365 289L365.6 283.2L366.2 291.4L366.8 286.7L367.4 287.2L367.9 286.3L368.5 285.9L369.2 288.1L369.9 285.8L370.6 283.9L371.2 286.7L371.8 281.2L372.5 283.2L373 286.4L373.6 282.8L374.3 281.8L374.9 291.2L375.5 287.2L376 288.7L376.6 288.5L377.3 288.6L377.9 297L378.5 290.9L379 287.7L379.5 285.8L380.2 282.2L380.9 285.4L381.5 289.7L382 286L382.6 292.7L383.3 287.7L384 284.8L384.7 291L385.3 288.5L386 284.3L386.5 288.1L387.2 283.5L387.8 286.7L388.5 281.5L389.1 281.7L389.6 281.8L390.3 279.4L390.8 287.5L391.3 287L391.9 286L392.6 282.1L393.2 286.6L393.8 284L394.3 286.4L395 283.9L395.6 291.3L396.3 297.1L396.9 291.5L397.5 287L398 283.5L398.7 294.8L399.4 285.4L399.9 292.7L400.5 277.5L401.1 287.5L401.6 292L402.2 300L402.8 296L403.4 312L404 322L404.6 335L405.2 350.5L405.5 350L406.6 349.5L407.3 340L408.7 326.8L409.7 314L410.2 309.5L411 292L411.8 288.5L412.6 288.5L413.5 296L414 293.8L414.6 289.7L415.3 292.9L415.8 304L417.1 309.3L418.2 321L418.7 336.2L419.4 331L420.5 332.6L421.4 328.5L422.1 337.5L423 336L423.6 340.2L424.3 340.7L424.8 331.7L425.5 325L426.2 325L426.7 309L427.5 308.9L428 294.6L429 292L430 300L430.7 283.9L431.6 289.7L432.5 298L433.2 304.9L434 311.6L434.4 319.4L435.2 328.5L435.6 327.1L436.4 340.7L437.2 342.6L437.6 349L438.1 341.8L438.8 330L439.6 318.6L440 304L440.8 289.7L441.4 296.6L442 296L443 300L444 292L445 289.7L446 305L446.8 295.3L447.3 291L447.8 314.2L448.5 320L449.3 335.3L449.8 340.7L450.6 340L451 345L452 330L453 338L454 315L454.7 308.1L455.5 300L456.5 310L457.6 300.5L458.3 284.9L458.9 292L459.5 305L460.5 298L461.2 313L462 312L463 305L463.8 314.7L464.5 320L465.3 319.7L466 315L466.9 323.3L467.5 328L468.1 356.8L468.8 382L469.5 330L470.2 326.9L471 320L471.6 312.7L472.5 300L473.3 293.9L474 296L474.8 291.7L475.3 289.7L475.9 293.1L476.5 297L477.5 292L478.1 308.3L479 310L480 325L480.7 348.8L481.4 360L481.8 344.5L482.5 330L483.2 322.6L484 318L484.8 327.1L485.5 335L486.2 327.3L487 320L487.7 310.8L488.5 300L489.2 291L490 294.6L491 305L491.7 299.6L492.5 295L493.2 294.9L493.6 287.3L494.5 300L495.5 310L496.5 330L497.5 320L498.5 373.4L499.5 330L500.5 310L501.4 297.3L502 299.4L503 310L503.9 302.1L504.5 301L505.4 307.1L506 315L507 330L508 322L508.8 337.5L509.5 340L510.3 331.2L511 330L511.8 329.9L512.5 345L513.2 354.8L514.3 355.2L514.9 342.9L515.5 335L516.2 331.7L517 318L518 305L519 299.4L520 310L520.9 303L521.5 300.5L522.5 315L523.4 324.8L524 330L525 320L526 340L526.7 324.2L527.6 311.6L528.5 322L529.3 345L530 369.8L530.8 330L531.3 306.7" stroke="#5b9fd3" stroke-width="0.8" fill="none" stroke-linejoin="round"/>
<rect x="335.5" y="259" width="203.0" height="160" fill="none" stroke="#555" stroke-width="1"/>
<path d="M335.5 419H538.5M335.5 259V419" stroke="#222" stroke-width="1" fill="none"/>
<path d="M335.5 278.4h3.5M335.5 386.9h3.5M335.5 354.2h2M335.5 335.1h2M335.5 321.6h2M335.5 311.1h2M335.5 302.5h2M335.5 295.2h2M335.5 288.9h2M335.5 283.4h2M335.5 411h2M335.5 403.7h2M335.5 397.4h2M335.5 391.9h2M335.5 419v-3M386.1 419v-3M436.6 419v-3M487.1 419v-3M537.7 419v-3" stroke="#333" stroke-width="0.9" fill="none"/>
<g font-size="9.6" fill="#111"><text x="335.5" y="429.6" text-anchor="middle">0</text><text x="386.1" y="429.6" text-anchor="middle">20</text><text x="436.6" y="429.6" text-anchor="middle">40</text><text x="487.1" y="429.6" text-anchor="middle">60</text><text x="537.7" y="429.6" text-anchor="middle">80</text></g>
<g font-size="9.2" fill="#111"><text x="317" y="280.5">10<tspan font-size="6.5" dy="-4">0</tspan></text><text x="314" y="390">10<tspan font-size="6.5" dy="-4">−1</tspan></text></g>
<text x="437" y="445.6" font-size="9.2" fill="#111" text-anchor="middle"><tspan font-style="italic">x</tspan> (µm)</text>
<text transform="translate(307.5 339) rotate(-90)" font-size="9.3" fill="#111" text-anchor="middle">SH intensity (a.u.)</text>
<path d="M404.5 259V419" stroke="#111" stroke-width="1.2"/>
<g font-size="8.7" fill="#111"><text x="369.5" y="268" text-anchor="middle">Non-engineered</text><text x="369.5" y="278.3" text-anchor="middle">area</text><text x="407.5" y="267.8">Engineered area</text></g>
<path d="M335.5 283.7H404M406 295.8H529.5M405.5 348.2H530.5" stroke="#111" stroke-width="1.6"/>
<path d="M375.9 301.8L368.2 290.5" stroke="#111" stroke-width="1.8"/><path d="M365.3 286.2L371.2 289.5L366.2 292.8Z" fill="#111"/>
<path d="M508 281L498.1 291.3" stroke="#111" stroke-width="1.8"/><path d="M494.5 295L496.5 288.6L500.8 292.8Z" fill="#111"/>
<path d="M448.8 359.5L457.8 352.7" stroke="#111" stroke-width="1.8"/><path d="M462 349.6L459 355.6L455.4 350.8Z" fill="#111"/>
<g font-size="9.3" fill="#111" text-anchor="middle"><text x="375.8" y="312.7">0.95</text><text x="509.5" y="278.5">0.748</text><text x="448.7" y="371.3">0.225</text></g>
</svg></body></html>
